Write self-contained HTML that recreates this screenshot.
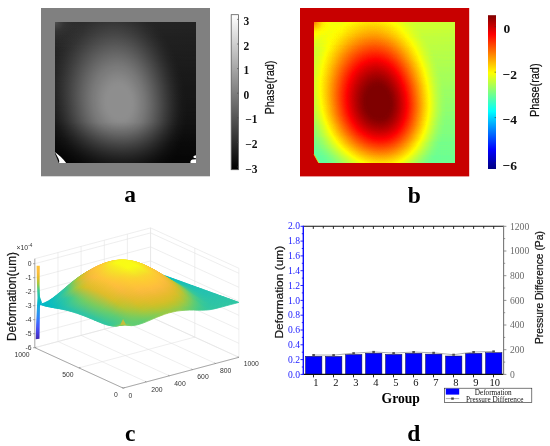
<!DOCTYPE html>
<html lang="en"><head><meta charset="utf-8"><title>Figure</title>
<style>
html,body{margin:0;padding:0;background:#fff}
svg{display:block}
text{font-family:"Liberation Sans",sans-serif}
.cbt{font-family:"Liberation Serif",serif;font-weight:bold;font-size:11.5px;fill:#111}
.cbl{font-size:12px;fill:#111;stroke:#111;stroke-width:.2px}
.rt{font-family:"Liberation Serif",serif;font-size:9.6px;fill:#6a6a6a}
.lt{font-family:"Liberation Serif",serif;font-size:9.6px;fill:#1a1aff}
.xt{font-family:"Liberation Serif",serif;font-size:10.5px;fill:#111}
.grp{font-family:"Liberation Serif",serif;font-weight:bold;font-size:15.4px;fill:#000}
.al{font-size:12px;fill:#111;stroke:#111;stroke-width:.2px}
.al2{font-size:10.3px;fill:#111;stroke:#111;stroke-width:.2px}
.lg{font-family:"Liberation Serif",serif;font-size:7.2px;fill:#111}
.t3{font-size:6.8px;fill:#333}
.pl{font-family:"Liberation Serif",serif;font-weight:bold;font-size:23.5px;fill:#000}
</style></head><body>
<svg width="550" height="446" viewBox="0 0 550 446">
<defs>
<linearGradient id="fbt" gradientUnits="userSpaceOnUse" x1="0" y1="0" x2="141" y2="0"><stop offset="0" stop-color="#989898"/><stop offset="1" stop-color="#939393"/></linearGradient>
<linearGradient id="fbb" gradientUnits="userSpaceOnUse" x1="0" y1="0" x2="141" y2="0"><stop offset="0" stop-color="#777777"/><stop offset="1" stop-color="#7a7a7a"/></linearGradient>
<linearGradient id="fbv" gradientUnits="userSpaceOnUse" x1="0" y1="0" x2="0" y2="141"><stop offset="0" stop-color="#fff" stop-opacity="0"/><stop offset="1" stop-color="#fff" stop-opacity="1"/></linearGradient>
<mask id="fbm" maskUnits="userSpaceOnUse" x="-1" y="-1" width="143" height="143" style="mask-type:alpha"><rect x="-1" y="-1" width="143" height="143" fill="url(#fbv)"/></mask>
<radialGradient id="fq0" gradientUnits="userSpaceOnUse" cx="0" cy="0" r="1" gradientTransform="scale(77.9 104.0)"><stop offset="0.0000" stop-color="#fff" stop-opacity="1.0000"/><stop offset="0.0312" stop-color="#fff" stop-opacity="1.0000"/><stop offset="0.0625" stop-color="#fff" stop-opacity="1.0000"/><stop offset="0.0938" stop-color="#fff" stop-opacity="1.0000"/><stop offset="0.1250" stop-color="#fff" stop-opacity="1.0000"/><stop offset="0.1562" stop-color="#fff" stop-opacity="1.0000"/><stop offset="0.1875" stop-color="#fff" stop-opacity="0.9903"/><stop offset="0.2188" stop-color="#fff" stop-opacity="0.9645"/><stop offset="0.2500" stop-color="#fff" stop-opacity="0.9350"/><stop offset="0.2812" stop-color="#fff" stop-opacity="0.9022"/><stop offset="0.3125" stop-color="#fff" stop-opacity="0.8662"/><stop offset="0.3438" stop-color="#fff" stop-opacity="0.8273"/><stop offset="0.3750" stop-color="#fff" stop-opacity="0.7857"/><stop offset="0.4062" stop-color="#fff" stop-opacity="0.7417"/><stop offset="0.4375" stop-color="#fff" stop-opacity="0.6956"/><stop offset="0.4688" stop-color="#fff" stop-opacity="0.6477"/><stop offset="0.5000" stop-color="#fff" stop-opacity="0.5984"/><stop offset="0.5312" stop-color="#fff" stop-opacity="0.5481"/><stop offset="0.5625" stop-color="#fff" stop-opacity="0.4971"/><stop offset="0.5938" stop-color="#fff" stop-opacity="0.4460"/><stop offset="0.6250" stop-color="#fff" stop-opacity="0.3950"/><stop offset="0.6562" stop-color="#fff" stop-opacity="0.3448"/><stop offset="0.6875" stop-color="#fff" stop-opacity="0.2958"/><stop offset="0.7188" stop-color="#fff" stop-opacity="0.2486"/><stop offset="0.7500" stop-color="#fff" stop-opacity="0.2036"/><stop offset="0.7812" stop-color="#fff" stop-opacity="0.1615"/><stop offset="0.8125" stop-color="#fff" stop-opacity="0.1229"/><stop offset="0.8438" stop-color="#fff" stop-opacity="0.0883"/><stop offset="0.8750" stop-color="#fff" stop-opacity="0.0584"/><stop offset="0.9062" stop-color="#fff" stop-opacity="0.0340"/><stop offset="0.9375" stop-color="#fff" stop-opacity="0.0156"/><stop offset="0.9688" stop-color="#fff" stop-opacity="0.0040"/><stop offset="1.0000" stop-color="#fff" stop-opacity="0.0000"/></radialGradient><radialGradient id="fq1" gradientUnits="userSpaceOnUse" cx="0" cy="0" r="1" gradientTransform="scale(67.8 104.0)"><stop offset="0.0000" stop-color="#fff" stop-opacity="1.0000"/><stop offset="0.0312" stop-color="#fff" stop-opacity="1.0000"/><stop offset="0.0625" stop-color="#fff" stop-opacity="1.0000"/><stop offset="0.0938" stop-color="#fff" stop-opacity="1.0000"/><stop offset="0.1250" stop-color="#fff" stop-opacity="1.0000"/><stop offset="0.1562" stop-color="#fff" stop-opacity="1.0000"/><stop offset="0.1875" stop-color="#fff" stop-opacity="0.9903"/><stop offset="0.2188" stop-color="#fff" stop-opacity="0.9645"/><stop offset="0.2500" stop-color="#fff" stop-opacity="0.9350"/><stop offset="0.2812" stop-color="#fff" stop-opacity="0.9022"/><stop offset="0.3125" stop-color="#fff" stop-opacity="0.8662"/><stop offset="0.3438" stop-color="#fff" stop-opacity="0.8273"/><stop offset="0.3750" stop-color="#fff" stop-opacity="0.7857"/><stop offset="0.4062" stop-color="#fff" stop-opacity="0.7417"/><stop offset="0.4375" stop-color="#fff" stop-opacity="0.6956"/><stop offset="0.4688" stop-color="#fff" stop-opacity="0.6477"/><stop offset="0.5000" stop-color="#fff" stop-opacity="0.5984"/><stop offset="0.5312" stop-color="#fff" stop-opacity="0.5481"/><stop offset="0.5625" stop-color="#fff" stop-opacity="0.4971"/><stop offset="0.5938" stop-color="#fff" stop-opacity="0.4460"/><stop offset="0.6250" stop-color="#fff" stop-opacity="0.3950"/><stop offset="0.6562" stop-color="#fff" stop-opacity="0.3448"/><stop offset="0.6875" stop-color="#fff" stop-opacity="0.2958"/><stop offset="0.7188" stop-color="#fff" stop-opacity="0.2486"/><stop offset="0.7500" stop-color="#fff" stop-opacity="0.2036"/><stop offset="0.7812" stop-color="#fff" stop-opacity="0.1615"/><stop offset="0.8125" stop-color="#fff" stop-opacity="0.1229"/><stop offset="0.8438" stop-color="#fff" stop-opacity="0.0883"/><stop offset="0.8750" stop-color="#fff" stop-opacity="0.0584"/><stop offset="0.9062" stop-color="#fff" stop-opacity="0.0340"/><stop offset="0.9375" stop-color="#fff" stop-opacity="0.0156"/><stop offset="0.9688" stop-color="#fff" stop-opacity="0.0040"/><stop offset="1.0000" stop-color="#fff" stop-opacity="0.0000"/></radialGradient><radialGradient id="fq2" gradientUnits="userSpaceOnUse" cx="0" cy="0" r="1" gradientTransform="scale(77.9 91.0)"><stop offset="0.0000" stop-color="#fff" stop-opacity="1.0000"/><stop offset="0.0312" stop-color="#fff" stop-opacity="1.0000"/><stop offset="0.0625" stop-color="#fff" stop-opacity="1.0000"/><stop offset="0.0938" stop-color="#fff" stop-opacity="1.0000"/><stop offset="0.1250" stop-color="#fff" stop-opacity="1.0000"/><stop offset="0.1562" stop-color="#fff" stop-opacity="1.0000"/><stop offset="0.1875" stop-color="#fff" stop-opacity="0.9903"/><stop offset="0.2188" stop-color="#fff" stop-opacity="0.9645"/><stop offset="0.2500" stop-color="#fff" stop-opacity="0.9350"/><stop offset="0.2812" stop-color="#fff" stop-opacity="0.9022"/><stop offset="0.3125" stop-color="#fff" stop-opacity="0.8662"/><stop offset="0.3438" stop-color="#fff" stop-opacity="0.8273"/><stop offset="0.3750" stop-color="#fff" stop-opacity="0.7857"/><stop offset="0.4062" stop-color="#fff" stop-opacity="0.7417"/><stop offset="0.4375" stop-color="#fff" stop-opacity="0.6956"/><stop offset="0.4688" stop-color="#fff" stop-opacity="0.6477"/><stop offset="0.5000" stop-color="#fff" stop-opacity="0.5984"/><stop offset="0.5312" stop-color="#fff" stop-opacity="0.5481"/><stop offset="0.5625" stop-color="#fff" stop-opacity="0.4971"/><stop offset="0.5938" stop-color="#fff" stop-opacity="0.4460"/><stop offset="0.6250" stop-color="#fff" stop-opacity="0.3950"/><stop offset="0.6562" stop-color="#fff" stop-opacity="0.3448"/><stop offset="0.6875" stop-color="#fff" stop-opacity="0.2958"/><stop offset="0.7188" stop-color="#fff" stop-opacity="0.2486"/><stop offset="0.7500" stop-color="#fff" stop-opacity="0.2036"/><stop offset="0.7812" stop-color="#fff" stop-opacity="0.1615"/><stop offset="0.8125" stop-color="#fff" stop-opacity="0.1229"/><stop offset="0.8438" stop-color="#fff" stop-opacity="0.0883"/><stop offset="0.8750" stop-color="#fff" stop-opacity="0.0584"/><stop offset="0.9062" stop-color="#fff" stop-opacity="0.0340"/><stop offset="0.9375" stop-color="#fff" stop-opacity="0.0156"/><stop offset="0.9688" stop-color="#fff" stop-opacity="0.0040"/><stop offset="1.0000" stop-color="#fff" stop-opacity="0.0000"/></radialGradient><radialGradient id="fq3" gradientUnits="userSpaceOnUse" cx="0" cy="0" r="1" gradientTransform="scale(67.8 91.0)"><stop offset="0.0000" stop-color="#fff" stop-opacity="1.0000"/><stop offset="0.0312" stop-color="#fff" stop-opacity="1.0000"/><stop offset="0.0625" stop-color="#fff" stop-opacity="1.0000"/><stop offset="0.0938" stop-color="#fff" stop-opacity="1.0000"/><stop offset="0.1250" stop-color="#fff" stop-opacity="1.0000"/><stop offset="0.1562" stop-color="#fff" stop-opacity="1.0000"/><stop offset="0.1875" stop-color="#fff" stop-opacity="0.9903"/><stop offset="0.2188" stop-color="#fff" stop-opacity="0.9645"/><stop offset="0.2500" stop-color="#fff" stop-opacity="0.9350"/><stop offset="0.2812" stop-color="#fff" stop-opacity="0.9022"/><stop offset="0.3125" stop-color="#fff" stop-opacity="0.8662"/><stop offset="0.3438" stop-color="#fff" stop-opacity="0.8273"/><stop offset="0.3750" stop-color="#fff" stop-opacity="0.7857"/><stop offset="0.4062" stop-color="#fff" stop-opacity="0.7417"/><stop offset="0.4375" stop-color="#fff" stop-opacity="0.6956"/><stop offset="0.4688" stop-color="#fff" stop-opacity="0.6477"/><stop offset="0.5000" stop-color="#fff" stop-opacity="0.5984"/><stop offset="0.5312" stop-color="#fff" stop-opacity="0.5481"/><stop offset="0.5625" stop-color="#fff" stop-opacity="0.4971"/><stop offset="0.5938" stop-color="#fff" stop-opacity="0.4460"/><stop offset="0.6250" stop-color="#fff" stop-opacity="0.3950"/><stop offset="0.6562" stop-color="#fff" stop-opacity="0.3448"/><stop offset="0.6875" stop-color="#fff" stop-opacity="0.2958"/><stop offset="0.7188" stop-color="#fff" stop-opacity="0.2486"/><stop offset="0.7500" stop-color="#fff" stop-opacity="0.2036"/><stop offset="0.7812" stop-color="#fff" stop-opacity="0.1615"/><stop offset="0.8125" stop-color="#fff" stop-opacity="0.1229"/><stop offset="0.8438" stop-color="#fff" stop-opacity="0.0883"/><stop offset="0.8750" stop-color="#fff" stop-opacity="0.0584"/><stop offset="0.9062" stop-color="#fff" stop-opacity="0.0340"/><stop offset="0.9375" stop-color="#fff" stop-opacity="0.0156"/><stop offset="0.9688" stop-color="#fff" stop-opacity="0.0040"/><stop offset="1.0000" stop-color="#fff" stop-opacity="0.0000"/></radialGradient>
<radialGradient id="fh" gradientUnits="userSpaceOnUse" cx="0" cy="0" r="30"><stop offset="0" stop-color="#fff" stop-opacity=".4"/><stop offset=".12" stop-color="#fff" stop-opacity=".27"/><stop offset=".3" stop-color="#fff" stop-opacity=".13"/><stop offset=".6" stop-color="#fff" stop-opacity=".05"/><stop offset="1" stop-color="#fff" stop-opacity="0"/></radialGradient>
<g id="fld"><rect x="-1" y="-1" width="143" height="143" fill="url(#fbt)"/><rect x="-1" y="-1" width="143" height="143" fill="url(#fbb)" mask="url(#fbm)"/><g transform="translate(65.0 81.0) rotate(-7.7)" shape-rendering="crispEdges"><rect x="-78.9" y="-105.0" width="78.9" height="105.0" fill="url(#fq0)"/><rect x="0" y="-105.0" width="68.8" height="105.0" fill="url(#fq1)"/><rect x="-78.9" y="0" width="78.9" height="92.0" fill="url(#fq2)"/><rect x="0" y="0" width="68.8" height="92.0" fill="url(#fq3)"/></g><rect x="0" y="0" width="32" height="32" fill="url(#fh)"/></g>
<clipPath id="sq"><rect x="0" y="0" width="141" height="141"/></clipPath>
<filter id="jet" x="0" y="0" width="1" height="1" color-interpolation-filters="sRGB" filterUnits="objectBoundingBox">
<feComponentTransfer>
<feFuncR type="table" tableValues="0 0 0 0 .5 1 1 1 .5"/>
<feFuncG type="table" tableValues="0 0 .5 1 1 1 .5 0 0"/>
<feFuncB type="table" tableValues=".5 1 1 1 .5 0 0 0 0"/>
</feComponentTransfer></filter>
<filter id="gry" x="0" y="0" width="1" height="1" color-interpolation-filters="sRGB">
<feComponentTransfer>
<feFuncR type="linear" slope=".99" intercept="-.43"/>
<feFuncG type="linear" slope=".99" intercept="-.43"/>
<feFuncB type="linear" slope=".99" intercept="-.43"/>
</feComponentTransfer></filter>
<linearGradient id="avg" x1="0" y1="0" x2="0" y2="1"><stop offset="0" stop-color="#000" stop-opacity="0"/><stop offset="1" stop-color="#000" stop-opacity=".55"/></linearGradient>
<linearGradient id="cba" x1="0" y1="0" x2="0" y2="1"><stop offset="0" stop-color="#fff"/><stop offset="1" stop-color="#000"/></linearGradient>
<linearGradient id="cbb" x1="0" y1="1" x2="0" y2="0">
<stop offset="0" stop-color="#000080"/><stop offset=".125" stop-color="#00f"/><stop offset=".375" stop-color="#0ff"/><stop offset=".625" stop-color="#ff0"/><stop offset=".875" stop-color="#f00"/><stop offset="1" stop-color="#800000"/></linearGradient>
</defs>
<rect width="550" height="446" fill="#fff"/>
<rect x="41" y="8" width="169" height="168.3" fill="#808080"/>
<g transform="translate(55 22)" clip-path="url(#sq)"><g filter="url(#gry)"><use href="#fld"/></g></g>
<rect x="55" y="122" width="141" height="41" fill="url(#avg)"/>
<path d="M54.5 152.3L54.5 163.5L59 163.5Z" fill="#808080"/>
<path d="M54.8 152C58.5 154.5 63 158.5 66.2 163L58.9 163C60 161.5 58.6 158.5 57.2 156.2C56.4 154.8 55.6 153.4 54.8 152Z" fill="#fff"/>
<path d="M196 155.2L194.3 155.8C193 156.3 193 157.6 194.3 158L196 158.2ZM196 159.2L192.5 159.4C190.6 160 190 161.5 190.6 163L196 163Z" fill="#fff"/>
<rect x="231.2" y="14.7" width="7.2" height="155" fill="url(#cba)" stroke="#5a5a5a" stroke-width=".8"/>
<path d="M237 19.4h1.4" stroke="#444" stroke-width=".6"/>
<text x="243.6" y="24.9" class="cbt">3</text>
<path d="M237 44.0h1.4" stroke="#444" stroke-width=".6"/>
<text x="243.6" y="49.5" class="cbt">2</text>
<path d="M237 68.6h1.4" stroke="#444" stroke-width=".6"/>
<text x="243.6" y="74.1" class="cbt">1</text>
<path d="M237 93.2h1.4" stroke="#444" stroke-width=".6"/>
<text x="243.6" y="98.7" class="cbt">0</text>
<path d="M237 117.8h1.4" stroke="#444" stroke-width=".6"/>
<text x="245.2" y="123.3" class="cbt">−1</text>
<path d="M237 142.4h1.4" stroke="#444" stroke-width=".6"/>
<text x="245.2" y="147.9" class="cbt">−2</text>
<path d="M237 167.0h1.4" stroke="#444" stroke-width=".6"/>
<text x="245.2" y="172.5" class="cbt">−3</text>
<text transform="translate(273.5 87.5) rotate(-90)" text-anchor="middle" class="cbl" textLength="54" lengthAdjust="spacingAndGlyphs">Phase(rad)</text>
<text x="130" y="202.3" text-anchor="middle" class="pl">a</text>
<rect x="300" y="8" width="169.2" height="168.4" fill="#c80000"/>
<g transform="translate(314 22)" clip-path="url(#sq)"><g filter="url(#jet)"><use href="#fld"/></g></g>
<path d="M314 154.5L314 163.5L318.8 163.5Z" fill="#c80000"/>
<path d="M314 154.5L318.8 163" stroke="#fc0" stroke-width=".8" fill="none"/>
<rect x="488" y="15.2" width="8" height="153.8" fill="url(#cbb)"/>
<path d="M494.6 26.7h1.4" stroke="#333" stroke-width=".6"/>
<text x="503.6" y="33.3" class="cbt" style="font-size:13.5px">0</text>
<path d="M494.6 72.2h1.4" stroke="#333" stroke-width=".6"/>
<text x="502.6" y="78.8" class="cbt" style="font-size:13.5px">−2</text>
<path d="M494.6 117.6h1.4" stroke="#333" stroke-width=".6"/>
<text x="502.6" y="124.2" class="cbt" style="font-size:13.5px">−4</text>
<path d="M494.6 163.1h1.4" stroke="#333" stroke-width=".6"/>
<text x="502.6" y="169.7" class="cbt" style="font-size:13.5px">−6</text>
<text transform="translate(538.8 90.3) rotate(-90)" text-anchor="middle" class="cbl" textLength="53.6" lengthAdjust="spacingAndGlyphs">Phase(rad)</text>
<text x="414.3" y="202.5" text-anchor="middle" class="pl">b</text>
<defs><linearGradient id="s55" gradientUnits="userSpaceOnUse" x1="40.8" y1="0" x2="156.6" y2="0"><stop offset="0.000" stop-color="#01b9c7"/><stop offset="0.083" stop-color="#07bcc0"/><stop offset="0.167" stop-color="#27c2ac"/><stop offset="0.250" stop-color="#4dcc82"/><stop offset="0.333" stop-color="#a0c841"/><stop offset="0.417" stop-color="#cac129"/><stop offset="0.500" stop-color="#d1bf27"/><stop offset="0.583" stop-color="#b9c430"/><stop offset="0.667" stop-color="#71cd64"/><stop offset="0.750" stop-color="#30c5a1"/><stop offset="0.833" stop-color="#14beb8"/><stop offset="0.917" stop-color="#02bac4"/><stop offset="1.000" stop-color="#02bac4"/></linearGradient><linearGradient id="s54" gradientUnits="userSpaceOnUse" x1="42.3" y1="0" x2="158.1" y2="0"><stop offset="0.000" stop-color="#01b9c7"/><stop offset="0.083" stop-color="#0abdbd"/><stop offset="0.167" stop-color="#2cc4a7"/><stop offset="0.250" stop-color="#62cd71"/><stop offset="0.333" stop-color="#b7c531"/><stop offset="0.417" stop-color="#d9bd28"/><stop offset="0.500" stop-color="#ddbd29"/><stop offset="0.583" stop-color="#cbc129"/><stop offset="0.667" stop-color="#89cb53"/><stop offset="0.750" stop-color="#34c79b"/><stop offset="0.833" stop-color="#19bfb5"/><stop offset="0.917" stop-color="#02bbc3"/><stop offset="1.000" stop-color="#02bac3"/></linearGradient><linearGradient id="s53" gradientUnits="userSpaceOnUse" x1="43.8" y1="0" x2="159.6" y2="0"><stop offset="0.000" stop-color="#01b9c6"/><stop offset="0.083" stop-color="#10beba"/><stop offset="0.167" stop-color="#30c5a2"/><stop offset="0.250" stop-color="#79cc5f"/><stop offset="0.333" stop-color="#c9c129"/><stop offset="0.417" stop-color="#e2bc2b"/><stop offset="0.500" stop-color="#e5bb2d"/><stop offset="0.583" stop-color="#d9be28"/><stop offset="0.667" stop-color="#9fc942"/><stop offset="0.750" stop-color="#3dc990"/><stop offset="0.833" stop-color="#1ec0b2"/><stop offset="0.917" stop-color="#04bbc2"/><stop offset="1.000" stop-color="#03bbc3"/></linearGradient><linearGradient id="s52" gradientUnits="userSpaceOnUse" x1="45.3" y1="0" x2="161.1" y2="0"><stop offset="0.000" stop-color="#02bac5"/><stop offset="0.083" stop-color="#15bfb7"/><stop offset="0.167" stop-color="#33c69d"/><stop offset="0.250" stop-color="#90ca4d"/><stop offset="0.333" stop-color="#d8be28"/><stop offset="0.417" stop-color="#eaba31"/><stop offset="0.500" stop-color="#edba33"/><stop offset="0.583" stop-color="#e1bc2b"/><stop offset="0.667" stop-color="#b3c534"/><stop offset="0.750" stop-color="#49cb85"/><stop offset="0.833" stop-color="#22c1af"/><stop offset="0.917" stop-color="#06bcc0"/><stop offset="1.000" stop-color="#03bbc2"/></linearGradient><linearGradient id="s51" gradientUnits="userSpaceOnUse" x1="46.8" y1="0" x2="162.6" y2="0"><stop offset="0.000" stop-color="#02bac4"/><stop offset="0.083" stop-color="#1bc0b4"/><stop offset="0.167" stop-color="#3cc992"/><stop offset="0.250" stop-color="#a6c83d"/><stop offset="0.333" stop-color="#e0bc2b"/><stop offset="0.417" stop-color="#f1ba37"/><stop offset="0.500" stop-color="#f4ba39"/><stop offset="0.583" stop-color="#e8bb2f"/><stop offset="0.667" stop-color="#c2c22c"/><stop offset="0.750" stop-color="#58cc79"/><stop offset="0.833" stop-color="#26c2ac"/><stop offset="0.917" stop-color="#08bcbf"/><stop offset="1.000" stop-color="#04bbc2"/></linearGradient><linearGradient id="s50" gradientUnits="userSpaceOnUse" x1="48.2" y1="0" x2="164.0" y2="0"><stop offset="0.000" stop-color="#03bbc2"/><stop offset="0.083" stop-color="#20c1b1"/><stop offset="0.167" stop-color="#48cb86"/><stop offset="0.250" stop-color="#b8c431"/><stop offset="0.333" stop-color="#e8bb2e"/><stop offset="0.417" stop-color="#f8ba3d"/><stop offset="0.500" stop-color="#fabb3d"/><stop offset="0.583" stop-color="#efba35"/><stop offset="0.667" stop-color="#d0c028"/><stop offset="0.750" stop-color="#67cd6c"/><stop offset="0.833" stop-color="#29c3aa"/><stop offset="0.917" stop-color="#09bdbe"/><stop offset="1.000" stop-color="#05bbc1"/></linearGradient><linearGradient id="s49" gradientUnits="userSpaceOnUse" x1="49.7" y1="0" x2="165.5" y2="0"><stop offset="0.000" stop-color="#05bbc1"/><stop offset="0.083" stop-color="#25c2ae"/><stop offset="0.167" stop-color="#57cc7a"/><stop offset="0.250" stop-color="#c7c12a"/><stop offset="0.333" stop-color="#eeba34"/><stop offset="0.417" stop-color="#fdbd3d"/><stop offset="0.500" stop-color="#febe3c"/><stop offset="0.583" stop-color="#f4ba3a"/><stop offset="0.667" stop-color="#d9bd28"/><stop offset="0.750" stop-color="#77cc60"/><stop offset="0.833" stop-color="#2cc4a7"/><stop offset="0.917" stop-color="#0bbdbc"/><stop offset="1.000" stop-color="#06bcc0"/></linearGradient><linearGradient id="s48" gradientUnits="userSpaceOnUse" x1="51.2" y1="0" x2="167.0" y2="0"><stop offset="0.000" stop-color="#07bcbf"/><stop offset="0.083" stop-color="#28c3ab"/><stop offset="0.167" stop-color="#66cd6d"/><stop offset="0.250" stop-color="#d4bf28"/><stop offset="0.333" stop-color="#f4ba39"/><stop offset="0.417" stop-color="#fec13a"/><stop offset="0.500" stop-color="#fec338"/><stop offset="0.583" stop-color="#fabb3d"/><stop offset="0.667" stop-color="#dfbc2a"/><stop offset="0.750" stop-color="#87cb54"/><stop offset="0.833" stop-color="#2ec5a4"/><stop offset="0.917" stop-color="#0ebebb"/><stop offset="1.000" stop-color="#07bcc0"/></linearGradient><linearGradient id="s47" gradientUnits="userSpaceOnUse" x1="52.7" y1="0" x2="168.5" y2="0"><stop offset="0.000" stop-color="#09bdbe"/><stop offset="0.083" stop-color="#2bc3a7"/><stop offset="0.167" stop-color="#77cc60"/><stop offset="0.250" stop-color="#dcbd29"/><stop offset="0.333" stop-color="#f9bb3d"/><stop offset="0.417" stop-color="#fec636"/><stop offset="0.500" stop-color="#fec735"/><stop offset="0.583" stop-color="#febe3c"/><stop offset="0.667" stop-color="#e5bb2d"/><stop offset="0.750" stop-color="#95ca49"/><stop offset="0.833" stop-color="#30c5a1"/><stop offset="0.917" stop-color="#11beb9"/><stop offset="1.000" stop-color="#07bcbf"/></linearGradient><linearGradient id="s46" gradientUnits="userSpaceOnUse" x1="54.2" y1="0" x2="170.0" y2="0"><stop offset="0.000" stop-color="#0cbdbc"/><stop offset="0.083" stop-color="#2ec4a4"/><stop offset="0.167" stop-color="#88cb53"/><stop offset="0.250" stop-color="#e2bc2b"/><stop offset="0.333" stop-color="#fdbd3d"/><stop offset="0.417" stop-color="#feca33"/><stop offset="0.500" stop-color="#fdcc32"/><stop offset="0.583" stop-color="#fec13a"/><stop offset="0.667" stop-color="#eabb30"/><stop offset="0.750" stop-color="#a3c83f"/><stop offset="0.833" stop-color="#32c69e"/><stop offset="0.917" stop-color="#14beb8"/><stop offset="1.000" stop-color="#08bcbf"/></linearGradient><linearGradient id="s45" gradientUnits="userSpaceOnUse" x1="55.7" y1="0" x2="171.5" y2="0"><stop offset="0.000" stop-color="#0fbeba"/><stop offset="0.083" stop-color="#30c5a1"/><stop offset="0.167" stop-color="#97ca48"/><stop offset="0.250" stop-color="#e7bb2e"/><stop offset="0.333" stop-color="#fec13a"/><stop offset="0.417" stop-color="#fdce31"/><stop offset="0.500" stop-color="#fcd030"/><stop offset="0.583" stop-color="#fec537"/><stop offset="0.667" stop-color="#eeba34"/><stop offset="0.750" stop-color="#afc637"/><stop offset="0.833" stop-color="#35c79a"/><stop offset="0.917" stop-color="#17bfb7"/><stop offset="1.000" stop-color="#09bcbe"/></linearGradient><linearGradient id="s44" gradientUnits="userSpaceOnUse" x1="57.1" y1="0" x2="172.9" y2="0"><stop offset="0.000" stop-color="#13beb9"/><stop offset="0.083" stop-color="#32c69e"/><stop offset="0.167" stop-color="#a5c83d"/><stop offset="0.250" stop-color="#ecba32"/><stop offset="0.333" stop-color="#fec437"/><stop offset="0.417" stop-color="#fbd22f"/><stop offset="0.500" stop-color="#fbd32e"/><stop offset="0.583" stop-color="#fec835"/><stop offset="0.667" stop-color="#f2ba37"/><stop offset="0.750" stop-color="#b8c431"/><stop offset="0.833" stop-color="#3ac994"/><stop offset="0.917" stop-color="#19bfb5"/><stop offset="1.000" stop-color="#0abdbe"/></linearGradient><linearGradient id="s43" gradientUnits="userSpaceOnUse" x1="58.6" y1="0" x2="174.4" y2="0"><stop offset="0.000" stop-color="#16bfb7"/><stop offset="0.083" stop-color="#36c899"/><stop offset="0.167" stop-color="#b2c635"/><stop offset="0.250" stop-color="#f0ba36"/><stop offset="0.333" stop-color="#fec835"/><stop offset="0.417" stop-color="#f9d82c"/><stop offset="0.500" stop-color="#f7dc2a"/><stop offset="0.583" stop-color="#fdcb33"/><stop offset="0.667" stop-color="#f5ba3a"/><stop offset="0.750" stop-color="#c0c32d"/><stop offset="0.833" stop-color="#3eca8f"/><stop offset="0.917" stop-color="#1bc0b4"/><stop offset="1.000" stop-color="#0bbdbd"/></linearGradient><linearGradient id="s42" gradientUnits="userSpaceOnUse" x1="60.1" y1="0" x2="175.9" y2="0"><stop offset="0.000" stop-color="#19bfb5"/><stop offset="0.083" stop-color="#3bc992"/><stop offset="0.167" stop-color="#bbc430"/><stop offset="0.250" stop-color="#f3ba39"/><stop offset="0.333" stop-color="#fdcb33"/><stop offset="0.417" stop-color="#f6e028"/><stop offset="0.500" stop-color="#f5e427"/><stop offset="0.583" stop-color="#fdce31"/><stop offset="0.667" stop-color="#f8ba3d"/><stop offset="0.750" stop-color="#c6c22a"/><stop offset="0.833" stop-color="#44ca8a"/><stop offset="0.917" stop-color="#1dc0b3"/><stop offset="1.000" stop-color="#0bbdbc"/></linearGradient><linearGradient id="s41" gradientUnits="userSpaceOnUse" x1="61.6" y1="0" x2="177.4" y2="0"><stop offset="0.000" stop-color="#1cc0b4"/><stop offset="0.083" stop-color="#41ca8c"/><stop offset="0.167" stop-color="#c3c22b"/><stop offset="0.250" stop-color="#f7ba3c"/><stop offset="0.333" stop-color="#fdce31"/><stop offset="0.417" stop-color="#f5e825"/><stop offset="0.500" stop-color="#f5eb23"/><stop offset="0.583" stop-color="#fcd130"/><stop offset="0.667" stop-color="#fabb3d"/><stop offset="0.750" stop-color="#ccc028"/><stop offset="0.833" stop-color="#49cb86"/><stop offset="0.917" stop-color="#1fc0b2"/><stop offset="1.000" stop-color="#0dbdbc"/></linearGradient><linearGradient id="s40" gradientUnits="userSpaceOnUse" x1="63.1" y1="0" x2="178.9" y2="0"><stop offset="0.000" stop-color="#1ec0b2"/><stop offset="0.083" stop-color="#48cb86"/><stop offset="0.167" stop-color="#cac129"/><stop offset="0.250" stop-color="#fabb3d"/><stop offset="0.333" stop-color="#fcd030"/><stop offset="0.417" stop-color="#f5ee21"/><stop offset="0.500" stop-color="#f6f11f"/><stop offset="0.583" stop-color="#fbd32f"/><stop offset="0.667" stop-color="#fcbd3d"/><stop offset="0.750" stop-color="#d1bf27"/><stop offset="0.833" stop-color="#4ecc81"/><stop offset="0.917" stop-color="#21c1b0"/><stop offset="1.000" stop-color="#0ebdbb"/></linearGradient><linearGradient id="s39" gradientUnits="userSpaceOnUse" x1="64.6" y1="0" x2="180.4" y2="0"><stop offset="0.000" stop-color="#21c1b0"/><stop offset="0.083" stop-color="#4fcc81"/><stop offset="0.167" stop-color="#d0bf27"/><stop offset="0.250" stop-color="#fcbc3d"/><stop offset="0.333" stop-color="#fbd32f"/><stop offset="0.417" stop-color="#f7f31c"/><stop offset="0.500" stop-color="#f7f61a"/><stop offset="0.583" stop-color="#fad62d"/><stop offset="0.667" stop-color="#febd3c"/><stop offset="0.750" stop-color="#d5be28"/><stop offset="0.833" stop-color="#52cc7e"/><stop offset="0.917" stop-color="#22c1b0"/><stop offset="1.000" stop-color="#0fbebb"/></linearGradient><linearGradient id="s38" gradientUnits="userSpaceOnUse" x1="66.0" y1="0" x2="181.8" y2="0"><stop offset="0.000" stop-color="#23c1af"/><stop offset="0.083" stop-color="#55cc7c"/><stop offset="0.167" stop-color="#d5be28"/><stop offset="0.250" stop-color="#fdbd3d"/><stop offset="0.333" stop-color="#fad52d"/><stop offset="0.417" stop-color="#f8f818"/><stop offset="0.500" stop-color="#f9fa16"/><stop offset="0.583" stop-color="#f8da2b"/><stop offset="0.667" stop-color="#febf3c"/><stop offset="0.750" stop-color="#d8be28"/><stop offset="0.833" stop-color="#56cc7b"/><stop offset="0.917" stop-color="#24c1af"/><stop offset="1.000" stop-color="#10beba"/></linearGradient><linearGradient id="s37" gradientUnits="userSpaceOnUse" x1="67.5" y1="0" x2="183.3" y2="0"><stop offset="0.000" stop-color="#25c2ae"/><stop offset="0.083" stop-color="#5bcc77"/><stop offset="0.167" stop-color="#d8be28"/><stop offset="0.250" stop-color="#febf3c"/><stop offset="0.333" stop-color="#f8d92b"/><stop offset="0.417" stop-color="#f9fb15"/><stop offset="0.500" stop-color="#f9fb15"/><stop offset="0.583" stop-color="#f7dd2a"/><stop offset="0.667" stop-color="#fec03b"/><stop offset="0.750" stop-color="#d9be28"/><stop offset="0.833" stop-color="#59cc78"/><stop offset="0.917" stop-color="#24c2ae"/><stop offset="1.000" stop-color="#11beb9"/></linearGradient><linearGradient id="s36" gradientUnits="userSpaceOnUse" x1="69.0" y1="0" x2="184.8" y2="0"><stop offset="0.000" stop-color="#26c2ad"/><stop offset="0.083" stop-color="#60cd72"/><stop offset="0.167" stop-color="#dabd28"/><stop offset="0.250" stop-color="#fec03b"/><stop offset="0.333" stop-color="#f7dc2a"/><stop offset="0.417" stop-color="#f9fb15"/><stop offset="0.500" stop-color="#f9fb15"/><stop offset="0.583" stop-color="#f6df29"/><stop offset="0.667" stop-color="#fec03a"/><stop offset="0.750" stop-color="#dabd28"/><stop offset="0.833" stop-color="#5ccc76"/><stop offset="0.917" stop-color="#25c2ad"/><stop offset="1.000" stop-color="#12beb9"/></linearGradient><linearGradient id="s35" gradientUnits="userSpaceOnUse" x1="70.5" y1="0" x2="186.3" y2="0"><stop offset="0.000" stop-color="#27c2ab"/><stop offset="0.083" stop-color="#65cd6e"/><stop offset="0.167" stop-color="#dcbd29"/><stop offset="0.250" stop-color="#fec13a"/><stop offset="0.333" stop-color="#f6df29"/><stop offset="0.417" stop-color="#f9fb15"/><stop offset="0.500" stop-color="#f9fb15"/><stop offset="0.583" stop-color="#f6e028"/><stop offset="0.667" stop-color="#fec13a"/><stop offset="0.750" stop-color="#dabd28"/><stop offset="0.833" stop-color="#5dcc75"/><stop offset="0.917" stop-color="#26c2ad"/><stop offset="1.000" stop-color="#13beb8"/></linearGradient><linearGradient id="s34" gradientUnits="userSpaceOnUse" x1="72.0" y1="0" x2="187.8" y2="0"><stop offset="0.000" stop-color="#28c3aa"/><stop offset="0.083" stop-color="#69cd6b"/><stop offset="0.167" stop-color="#ddbd29"/><stop offset="0.250" stop-color="#fec13a"/><stop offset="0.333" stop-color="#f6e028"/><stop offset="0.417" stop-color="#f9fb15"/><stop offset="0.500" stop-color="#f9fb15"/><stop offset="0.583" stop-color="#f6e128"/><stop offset="0.667" stop-color="#fec13a"/><stop offset="0.750" stop-color="#dbbd28"/><stop offset="0.833" stop-color="#5ecd74"/><stop offset="0.917" stop-color="#26c2ac"/><stop offset="1.000" stop-color="#15bfb8"/></linearGradient><linearGradient id="s33" gradientUnits="userSpaceOnUse" x1="73.4" y1="0" x2="189.2" y2="0"><stop offset="0.000" stop-color="#2ac3a9"/><stop offset="0.083" stop-color="#6dcd67"/><stop offset="0.167" stop-color="#dfbc2a"/><stop offset="0.250" stop-color="#fec239"/><stop offset="0.333" stop-color="#f6e128"/><stop offset="0.417" stop-color="#f9fb15"/><stop offset="0.500" stop-color="#f9fb15"/><stop offset="0.583" stop-color="#f6e028"/><stop offset="0.667" stop-color="#fec03a"/><stop offset="0.750" stop-color="#dbbd28"/><stop offset="0.833" stop-color="#5ecd74"/><stop offset="0.917" stop-color="#27c2ac"/><stop offset="1.000" stop-color="#16bfb7"/></linearGradient><linearGradient id="s32" gradientUnits="userSpaceOnUse" x1="74.9" y1="0" x2="190.7" y2="0"><stop offset="0.000" stop-color="#2bc3a8"/><stop offset="0.083" stop-color="#70cd65"/><stop offset="0.167" stop-color="#dfbc2a"/><stop offset="0.250" stop-color="#fec239"/><stop offset="0.333" stop-color="#f5e128"/><stop offset="0.417" stop-color="#f9fb15"/><stop offset="0.500" stop-color="#f9fb15"/><stop offset="0.583" stop-color="#f6df29"/><stop offset="0.667" stop-color="#fec03b"/><stop offset="0.750" stop-color="#dabd28"/><stop offset="0.833" stop-color="#5ecd74"/><stop offset="0.917" stop-color="#27c2ac"/><stop offset="1.000" stop-color="#17bfb6"/></linearGradient><linearGradient id="s31" gradientUnits="userSpaceOnUse" x1="76.4" y1="0" x2="192.2" y2="0"><stop offset="0.000" stop-color="#2bc4a7"/><stop offset="0.083" stop-color="#73cd62"/><stop offset="0.167" stop-color="#e0bc2a"/><stop offset="0.250" stop-color="#fec239"/><stop offset="0.333" stop-color="#f6e128"/><stop offset="0.417" stop-color="#f9fb15"/><stop offset="0.500" stop-color="#f9fb15"/><stop offset="0.583" stop-color="#f7dd2a"/><stop offset="0.667" stop-color="#febf3b"/><stop offset="0.750" stop-color="#d9be28"/><stop offset="0.833" stop-color="#5dcc75"/><stop offset="0.917" stop-color="#27c2ac"/><stop offset="1.000" stop-color="#18bfb6"/></linearGradient><linearGradient id="s30" gradientUnits="userSpaceOnUse" x1="77.9" y1="0" x2="193.7" y2="0"><stop offset="0.000" stop-color="#2cc4a7"/><stop offset="0.083" stop-color="#76cc61"/><stop offset="0.167" stop-color="#e0bc2a"/><stop offset="0.250" stop-color="#fec239"/><stop offset="0.333" stop-color="#f6df29"/><stop offset="0.417" stop-color="#f9fb15"/><stop offset="0.500" stop-color="#f9fb15"/><stop offset="0.583" stop-color="#f8da2b"/><stop offset="0.667" stop-color="#febf3c"/><stop offset="0.750" stop-color="#d8be28"/><stop offset="0.833" stop-color="#5bcc76"/><stop offset="0.917" stop-color="#27c2ac"/><stop offset="1.000" stop-color="#19bfb5"/></linearGradient><linearGradient id="s29" gradientUnits="userSpaceOnUse" x1="79.4" y1="0" x2="195.2" y2="0"><stop offset="0.000" stop-color="#2dc4a6"/><stop offset="0.083" stop-color="#77cc5f"/><stop offset="0.167" stop-color="#e0bc2b"/><stop offset="0.250" stop-color="#fec239"/><stop offset="0.333" stop-color="#f6de29"/><stop offset="0.417" stop-color="#f9fb15"/><stop offset="0.500" stop-color="#f9fa16"/><stop offset="0.583" stop-color="#f9d72c"/><stop offset="0.667" stop-color="#febe3c"/><stop offset="0.750" stop-color="#d6be28"/><stop offset="0.833" stop-color="#59cc78"/><stop offset="0.917" stop-color="#27c2ac"/><stop offset="1.000" stop-color="#1ac0b5"/></linearGradient><linearGradient id="s28" gradientUnits="userSpaceOnUse" x1="80.9" y1="0" x2="196.7" y2="0"><stop offset="0.000" stop-color="#2dc4a5"/><stop offset="0.083" stop-color="#79cc5f"/><stop offset="0.167" stop-color="#e0bc2a"/><stop offset="0.250" stop-color="#fec13a"/><stop offset="0.333" stop-color="#f7dc2a"/><stop offset="0.417" stop-color="#f8f817"/><stop offset="0.500" stop-color="#f8f61a"/><stop offset="0.583" stop-color="#fad42e"/><stop offset="0.667" stop-color="#fdbd3d"/><stop offset="0.750" stop-color="#d3bf27"/><stop offset="0.833" stop-color="#56cc7a"/><stop offset="0.917" stop-color="#27c2ac"/><stop offset="1.000" stop-color="#1bc0b4"/></linearGradient><linearGradient id="s27" gradientUnits="userSpaceOnUse" x1="82.3" y1="0" x2="198.1" y2="0"><stop offset="0.000" stop-color="#2ec4a5"/><stop offset="0.083" stop-color="#79cc5e"/><stop offset="0.167" stop-color="#e0bc2a"/><stop offset="0.250" stop-color="#fec13a"/><stop offset="0.333" stop-color="#f8d92c"/><stop offset="0.417" stop-color="#f7f51b"/><stop offset="0.500" stop-color="#f6f31d"/><stop offset="0.583" stop-color="#fbd22f"/><stop offset="0.667" stop-color="#fbbc3d"/><stop offset="0.750" stop-color="#d0bf27"/><stop offset="0.833" stop-color="#54cc7d"/><stop offset="0.917" stop-color="#27c2ac"/><stop offset="1.000" stop-color="#1cc0b3"/></linearGradient><linearGradient id="s26" gradientUnits="userSpaceOnUse" x1="83.8" y1="0" x2="199.6" y2="0"><stop offset="0.000" stop-color="#2ec4a4"/><stop offset="0.083" stop-color="#79cc5e"/><stop offset="0.167" stop-color="#dfbc2a"/><stop offset="0.250" stop-color="#fec03b"/><stop offset="0.333" stop-color="#fad52d"/><stop offset="0.417" stop-color="#f6f11e"/><stop offset="0.500" stop-color="#f5ee21"/><stop offset="0.583" stop-color="#fcd030"/><stop offset="0.667" stop-color="#fabb3d"/><stop offset="0.750" stop-color="#ccc028"/><stop offset="0.833" stop-color="#50cc7f"/><stop offset="0.917" stop-color="#27c2ac"/><stop offset="1.000" stop-color="#1dc0b3"/></linearGradient><linearGradient id="s25" gradientUnits="userSpaceOnUse" x1="85.3" y1="0" x2="201.1" y2="0"><stop offset="0.000" stop-color="#2ec5a4"/><stop offset="0.083" stop-color="#79cc5e"/><stop offset="0.167" stop-color="#debc2a"/><stop offset="0.250" stop-color="#febf3b"/><stop offset="0.333" stop-color="#fbd32e"/><stop offset="0.417" stop-color="#f5ed22"/><stop offset="0.500" stop-color="#f5e924"/><stop offset="0.583" stop-color="#fdce31"/><stop offset="0.667" stop-color="#f8ba3d"/><stop offset="0.750" stop-color="#c8c129"/><stop offset="0.833" stop-color="#4dcc82"/><stop offset="0.917" stop-color="#27c2ac"/><stop offset="1.000" stop-color="#1ec0b2"/></linearGradient><linearGradient id="s24" gradientUnits="userSpaceOnUse" x1="86.8" y1="0" x2="202.6" y2="0"><stop offset="0.000" stop-color="#2fc5a3"/><stop offset="0.083" stop-color="#78cc5f"/><stop offset="0.167" stop-color="#ddbd29"/><stop offset="0.250" stop-color="#febe3c"/><stop offset="0.333" stop-color="#fbd12f"/><stop offset="0.417" stop-color="#f5e825"/><stop offset="0.500" stop-color="#f5e427"/><stop offset="0.583" stop-color="#fdcc32"/><stop offset="0.667" stop-color="#f5ba3b"/><stop offset="0.750" stop-color="#c3c22b"/><stop offset="0.833" stop-color="#49cb85"/><stop offset="0.917" stop-color="#26c2ac"/><stop offset="1.000" stop-color="#1fc0b2"/></linearGradient><linearGradient id="s23" gradientUnits="userSpaceOnUse" x1="88.3" y1="0" x2="204.1" y2="0"><stop offset="0.000" stop-color="#2fc5a3"/><stop offset="0.083" stop-color="#77cc60"/><stop offset="0.167" stop-color="#dcbd29"/><stop offset="0.250" stop-color="#fdbd3d"/><stop offset="0.333" stop-color="#fccf30"/><stop offset="0.417" stop-color="#f5e227"/><stop offset="0.500" stop-color="#f6de29"/><stop offset="0.583" stop-color="#feca33"/><stop offset="0.667" stop-color="#f3ba38"/><stop offset="0.750" stop-color="#bec32e"/><stop offset="0.833" stop-color="#46cb88"/><stop offset="0.917" stop-color="#26c2ac"/><stop offset="1.000" stop-color="#20c1b1"/></linearGradient><linearGradient id="s22" gradientUnits="userSpaceOnUse" x1="89.8" y1="0" x2="205.6" y2="0"><stop offset="0.000" stop-color="#2fc5a3"/><stop offset="0.083" stop-color="#75cc61"/><stop offset="0.167" stop-color="#dbbd28"/><stop offset="0.250" stop-color="#fbbc3d"/><stop offset="0.333" stop-color="#fdcd31"/><stop offset="0.417" stop-color="#f7dc2a"/><stop offset="0.500" stop-color="#f9d72d"/><stop offset="0.583" stop-color="#fec735"/><stop offset="0.667" stop-color="#f0ba36"/><stop offset="0.750" stop-color="#b8c431"/><stop offset="0.833" stop-color="#42ca8b"/><stop offset="0.917" stop-color="#26c2ac"/><stop offset="1.000" stop-color="#21c1b0"/></linearGradient><linearGradient id="s21" gradientUnits="userSpaceOnUse" x1="91.2" y1="0" x2="207.0" y2="0"><stop offset="0.000" stop-color="#2fc5a2"/><stop offset="0.083" stop-color="#73cd63"/><stop offset="0.167" stop-color="#d9be28"/><stop offset="0.250" stop-color="#fabb3d"/><stop offset="0.333" stop-color="#fdcb33"/><stop offset="0.417" stop-color="#fad52d"/><stop offset="0.500" stop-color="#fbd22f"/><stop offset="0.583" stop-color="#fec537"/><stop offset="0.667" stop-color="#edba33"/><stop offset="0.750" stop-color="#b2c635"/><stop offset="0.833" stop-color="#3fca8e"/><stop offset="0.917" stop-color="#26c2ad"/><stop offset="1.000" stop-color="#22c1b0"/></linearGradient><linearGradient id="s20" gradientUnits="userSpaceOnUse" x1="92.7" y1="0" x2="208.5" y2="0"><stop offset="0.000" stop-color="#2fc5a2"/><stop offset="0.083" stop-color="#71cd64"/><stop offset="0.167" stop-color="#d7be28"/><stop offset="0.250" stop-color="#f8ba3d"/><stop offset="0.333" stop-color="#fec934"/><stop offset="0.417" stop-color="#fbd22f"/><stop offset="0.500" stop-color="#fccf30"/><stop offset="0.583" stop-color="#fec239"/><stop offset="0.667" stop-color="#eaba31"/><stop offset="0.750" stop-color="#aac73a"/><stop offset="0.833" stop-color="#3cc991"/><stop offset="0.917" stop-color="#26c2ad"/><stop offset="1.000" stop-color="#23c1af"/></linearGradient><linearGradient id="s19" gradientUnits="userSpaceOnUse" x1="94.2" y1="0" x2="210.0" y2="0"><stop offset="0.000" stop-color="#2fc5a2"/><stop offset="0.083" stop-color="#6ecd66"/><stop offset="0.167" stop-color="#d4bf27"/><stop offset="0.250" stop-color="#f5ba3b"/><stop offset="0.333" stop-color="#fec636"/><stop offset="0.417" stop-color="#fccf30"/><stop offset="0.500" stop-color="#fdcc32"/><stop offset="0.583" stop-color="#fec03b"/><stop offset="0.667" stop-color="#e7bb2e"/><stop offset="0.750" stop-color="#a2c840"/><stop offset="0.833" stop-color="#39c995"/><stop offset="0.917" stop-color="#26c2ad"/><stop offset="1.000" stop-color="#24c1af"/></linearGradient><linearGradient id="s18" gradientUnits="userSpaceOnUse" x1="95.7" y1="0" x2="211.5" y2="0"><stop offset="0.000" stop-color="#30c5a2"/><stop offset="0.083" stop-color="#6ccd69"/><stop offset="0.167" stop-color="#d0c028"/><stop offset="0.250" stop-color="#f3ba39"/><stop offset="0.333" stop-color="#fec438"/><stop offset="0.417" stop-color="#fdcc32"/><stop offset="0.500" stop-color="#fec934"/><stop offset="0.583" stop-color="#fdbd3d"/><stop offset="0.667" stop-color="#e3bc2c"/><stop offset="0.750" stop-color="#98c946"/><stop offset="0.833" stop-color="#37c898"/><stop offset="0.917" stop-color="#26c2ad"/><stop offset="1.000" stop-color="#24c2ae"/></linearGradient><linearGradient id="s17" gradientUnits="userSpaceOnUse" x1="97.2" y1="0" x2="213.0" y2="0"><stop offset="0.000" stop-color="#30c5a2"/><stop offset="0.083" stop-color="#69cd6b"/><stop offset="0.167" stop-color="#cbc029"/><stop offset="0.250" stop-color="#f0ba36"/><stop offset="0.333" stop-color="#fec13a"/><stop offset="0.417" stop-color="#fec934"/><stop offset="0.500" stop-color="#fec636"/><stop offset="0.583" stop-color="#fabb3d"/><stop offset="0.667" stop-color="#dfbc2a"/><stop offset="0.750" stop-color="#8fcb4e"/><stop offset="0.833" stop-color="#35c79b"/><stop offset="0.917" stop-color="#26c2ac"/><stop offset="1.000" stop-color="#25c2ad"/></linearGradient><linearGradient id="s16" gradientUnits="userSpaceOnUse" x1="98.6" y1="0" x2="214.4" y2="0"><stop offset="0.000" stop-color="#30c5a1"/><stop offset="0.083" stop-color="#66cd6d"/><stop offset="0.167" stop-color="#c7c12a"/><stop offset="0.250" stop-color="#edba34"/><stop offset="0.333" stop-color="#febf3c"/><stop offset="0.417" stop-color="#fec636"/><stop offset="0.500" stop-color="#fec338"/><stop offset="0.583" stop-color="#f7ba3c"/><stop offset="0.667" stop-color="#dbbd29"/><stop offset="0.750" stop-color="#86cb55"/><stop offset="0.833" stop-color="#33c69d"/><stop offset="0.917" stop-color="#26c2ac"/><stop offset="1.000" stop-color="#26c2ad"/></linearGradient><linearGradient id="s15" gradientUnits="userSpaceOnUse" x1="100.1" y1="0" x2="215.9" y2="0"><stop offset="0.000" stop-color="#30c5a1"/><stop offset="0.083" stop-color="#63cd6f"/><stop offset="0.167" stop-color="#c2c22c"/><stop offset="0.250" stop-color="#eaba31"/><stop offset="0.333" stop-color="#fcbd3d"/><stop offset="0.417" stop-color="#fec339"/><stop offset="0.500" stop-color="#fec03b"/><stop offset="0.583" stop-color="#f3ba38"/><stop offset="0.667" stop-color="#d7be28"/><stop offset="0.750" stop-color="#7ccc5c"/><stop offset="0.833" stop-color="#32c69f"/><stop offset="0.917" stop-color="#27c2ac"/><stop offset="1.000" stop-color="#26c2ac"/></linearGradient><linearGradient id="s14" gradientUnits="userSpaceOnUse" x1="101.6" y1="0" x2="217.4" y2="0"><stop offset="0.000" stop-color="#31c6a0"/><stop offset="0.083" stop-color="#61cd71"/><stop offset="0.167" stop-color="#bdc42f"/><stop offset="0.250" stop-color="#e7bb2e"/><stop offset="0.333" stop-color="#f9bb3d"/><stop offset="0.417" stop-color="#febf3b"/><stop offset="0.500" stop-color="#fdbd3d"/><stop offset="0.583" stop-color="#efba35"/><stop offset="0.667" stop-color="#cfc028"/><stop offset="0.750" stop-color="#72cd64"/><stop offset="0.833" stop-color="#31c6a0"/><stop offset="0.917" stop-color="#27c2ac"/><stop offset="1.000" stop-color="#27c2ac"/></linearGradient><linearGradient id="s13" gradientUnits="userSpaceOnUse" x1="103.1" y1="0" x2="218.9" y2="0"><stop offset="0.000" stop-color="#31c6a0"/><stop offset="0.083" stop-color="#5fcd73"/><stop offset="0.167" stop-color="#b7c532"/><stop offset="0.250" stop-color="#e4bb2c"/><stop offset="0.333" stop-color="#f6ba3b"/><stop offset="0.417" stop-color="#fdbd3d"/><stop offset="0.500" stop-color="#fabb3d"/><stop offset="0.583" stop-color="#eaba31"/><stop offset="0.667" stop-color="#c6c22a"/><stop offset="0.750" stop-color="#69cd6b"/><stop offset="0.833" stop-color="#30c5a1"/><stop offset="0.917" stop-color="#28c2ab"/><stop offset="1.000" stop-color="#28c2ab"/></linearGradient><linearGradient id="s12" gradientUnits="userSpaceOnUse" x1="104.6" y1="0" x2="220.4" y2="0"><stop offset="0.000" stop-color="#32c69f"/><stop offset="0.083" stop-color="#5ccc75"/><stop offset="0.167" stop-color="#b2c635"/><stop offset="0.250" stop-color="#e0bc2b"/><stop offset="0.333" stop-color="#f2ba38"/><stop offset="0.417" stop-color="#f9bb3d"/><stop offset="0.500" stop-color="#f5ba3b"/><stop offset="0.583" stop-color="#e6bb2d"/><stop offset="0.667" stop-color="#bdc32e"/><stop offset="0.750" stop-color="#60cd72"/><stop offset="0.833" stop-color="#30c5a2"/><stop offset="0.917" stop-color="#28c3aa"/><stop offset="1.000" stop-color="#28c3aa"/></linearGradient><linearGradient id="s11" gradientUnits="userSpaceOnUse" x1="106.1" y1="0" x2="221.9" y2="0"><stop offset="0.000" stop-color="#32c69e"/><stop offset="0.083" stop-color="#5bcc77"/><stop offset="0.167" stop-color="#abc739"/><stop offset="0.250" stop-color="#ddbd29"/><stop offset="0.333" stop-color="#eeba34"/><stop offset="0.417" stop-color="#f5ba3a"/><stop offset="0.500" stop-color="#f1ba37"/><stop offset="0.583" stop-color="#e1bc2b"/><stop offset="0.667" stop-color="#b3c534"/><stop offset="0.750" stop-color="#58cc79"/><stop offset="0.833" stop-color="#2fc5a3"/><stop offset="0.917" stop-color="#29c3aa"/><stop offset="1.000" stop-color="#29c3aa"/></linearGradient><linearGradient id="s10" gradientUnits="userSpaceOnUse" x1="107.5" y1="0" x2="223.3" y2="0"><stop offset="0.000" stop-color="#33c69d"/><stop offset="0.083" stop-color="#59cc78"/><stop offset="0.167" stop-color="#a4c83e"/><stop offset="0.250" stop-color="#d9be28"/><stop offset="0.333" stop-color="#eabb30"/><stop offset="0.417" stop-color="#f1ba36"/><stop offset="0.500" stop-color="#ecba33"/><stop offset="0.583" stop-color="#dcbd29"/><stop offset="0.667" stop-color="#a8c73b"/><stop offset="0.750" stop-color="#50cc7f"/><stop offset="0.833" stop-color="#2ec5a4"/><stop offset="0.917" stop-color="#2ac3a9"/><stop offset="1.000" stop-color="#2ac3a9"/></linearGradient><linearGradient id="s9" gradientUnits="userSpaceOnUse" x1="109.0" y1="0" x2="224.8" y2="0"><stop offset="0.000" stop-color="#35c79a"/><stop offset="0.083" stop-color="#58cc79"/><stop offset="0.167" stop-color="#9dc943"/><stop offset="0.250" stop-color="#d3bf27"/><stop offset="0.333" stop-color="#e6bb2d"/><stop offset="0.417" stop-color="#ecba32"/><stop offset="0.500" stop-color="#e8bb2e"/><stop offset="0.583" stop-color="#d7be28"/><stop offset="0.667" stop-color="#9bc944"/><stop offset="0.750" stop-color="#49cb85"/><stop offset="0.833" stop-color="#2ec4a4"/><stop offset="0.917" stop-color="#2ac3a8"/><stop offset="1.000" stop-color="#2ac3a9"/></linearGradient><linearGradient id="s8" gradientUnits="userSpaceOnUse" x1="110.5" y1="0" x2="226.3" y2="0"><stop offset="0.000" stop-color="#38c896"/><stop offset="0.083" stop-color="#58cc79"/><stop offset="0.167" stop-color="#96ca49"/><stop offset="0.250" stop-color="#cbc129"/><stop offset="0.333" stop-color="#e1bc2b"/><stop offset="0.417" stop-color="#e7bb2e"/><stop offset="0.500" stop-color="#e2bc2b"/><stop offset="0.583" stop-color="#cdc028"/><stop offset="0.667" stop-color="#8fcb4e"/><stop offset="0.750" stop-color="#43ca8b"/><stop offset="0.833" stop-color="#2dc4a5"/><stop offset="0.917" stop-color="#2bc3a8"/><stop offset="1.000" stop-color="#2bc3a8"/></linearGradient><linearGradient id="s7" gradientUnits="userSpaceOnUse" x1="112.0" y1="0" x2="227.8" y2="0"><stop offset="0.000" stop-color="#3cc992"/><stop offset="0.083" stop-color="#58cc79"/><stop offset="0.167" stop-color="#8fcb4e"/><stop offset="0.250" stop-color="#c3c22b"/><stop offset="0.333" stop-color="#dcbd29"/><stop offset="0.417" stop-color="#e2bc2b"/><stop offset="0.500" stop-color="#ddbd29"/><stop offset="0.583" stop-color="#c3c22b"/><stop offset="0.667" stop-color="#82cc58"/><stop offset="0.750" stop-color="#3eca8f"/><stop offset="0.833" stop-color="#2dc4a5"/><stop offset="0.917" stop-color="#2cc4a7"/><stop offset="1.000" stop-color="#2cc4a7"/></linearGradient><linearGradient id="s6" gradientUnits="userSpaceOnUse" x1="113.5" y1="0" x2="229.3" y2="0"><stop offset="0.000" stop-color="#41ca8c"/><stop offset="0.083" stop-color="#59cc78"/><stop offset="0.167" stop-color="#88cb53"/><stop offset="0.250" stop-color="#bbc430"/><stop offset="0.333" stop-color="#d7be28"/><stop offset="0.417" stop-color="#ddbd29"/><stop offset="0.500" stop-color="#d8be28"/><stop offset="0.583" stop-color="#b8c431"/><stop offset="0.667" stop-color="#76cc61"/><stop offset="0.750" stop-color="#3ac994"/><stop offset="0.833" stop-color="#2dc4a5"/><stop offset="0.917" stop-color="#2cc4a7"/><stop offset="1.000" stop-color="#2cc4a7"/></linearGradient><linearGradient id="s5" gradientUnits="userSpaceOnUse" x1="114.9" y1="0" x2="230.7" y2="0"><stop offset="0.000" stop-color="#4acb85"/><stop offset="0.083" stop-color="#5acc77"/><stop offset="0.167" stop-color="#81cc59"/><stop offset="0.250" stop-color="#b2c635"/><stop offset="0.333" stop-color="#cec028"/><stop offset="0.417" stop-color="#d7be28"/><stop offset="0.500" stop-color="#cec028"/><stop offset="0.583" stop-color="#adc738"/><stop offset="0.667" stop-color="#6acd6a"/><stop offset="0.750" stop-color="#37c898"/><stop offset="0.833" stop-color="#2dc4a5"/><stop offset="0.917" stop-color="#2dc4a6"/><stop offset="1.000" stop-color="#2dc4a6"/></linearGradient><linearGradient id="s4" gradientUnits="userSpaceOnUse" x1="116.4" y1="0" x2="232.2" y2="0"><stop offset="0.000" stop-color="#55cc7c"/><stop offset="0.083" stop-color="#5ccc76"/><stop offset="0.167" stop-color="#7acc5e"/><stop offset="0.250" stop-color="#a7c73c"/><stop offset="0.333" stop-color="#c4c22b"/><stop offset="0.417" stop-color="#cec028"/><stop offset="0.500" stop-color="#c3c22b"/><stop offset="0.583" stop-color="#9fc942"/><stop offset="0.667" stop-color="#60cd72"/><stop offset="0.750" stop-color="#34c79b"/><stop offset="0.833" stop-color="#2dc4a5"/><stop offset="0.917" stop-color="#2dc4a5"/><stop offset="1.000" stop-color="#2dc4a5"/></linearGradient><linearGradient id="s3" gradientUnits="userSpaceOnUse" x1="117.9" y1="0" x2="233.7" y2="0"><stop offset="0.000" stop-color="#62cd70"/><stop offset="0.083" stop-color="#5ecd74"/><stop offset="0.167" stop-color="#73cd62"/><stop offset="0.250" stop-color="#9cc944"/><stop offset="0.333" stop-color="#bac430"/><stop offset="0.417" stop-color="#c3c22b"/><stop offset="0.500" stop-color="#b8c431"/><stop offset="0.583" stop-color="#91ca4d"/><stop offset="0.667" stop-color="#57cc7a"/><stop offset="0.750" stop-color="#33c69e"/><stop offset="0.833" stop-color="#2ec4a4"/><stop offset="0.917" stop-color="#2ec4a5"/><stop offset="1.000" stop-color="#2ec4a5"/></linearGradient><linearGradient id="s2" gradientUnits="userSpaceOnUse" x1="119.4" y1="0" x2="235.2" y2="0"><stop offset="0.000" stop-color="#73cd63"/><stop offset="0.083" stop-color="#60cd72"/><stop offset="0.167" stop-color="#6dcd67"/><stop offset="0.250" stop-color="#91ca4c"/><stop offset="0.333" stop-color="#afc636"/><stop offset="0.417" stop-color="#b8c431"/><stop offset="0.500" stop-color="#acc739"/><stop offset="0.583" stop-color="#83cc57"/><stop offset="0.667" stop-color="#4ecc81"/><stop offset="0.750" stop-color="#32c69f"/><stop offset="0.833" stop-color="#2ec5a4"/><stop offset="0.917" stop-color="#2ec5a4"/><stop offset="1.000" stop-color="#2ec4a4"/></linearGradient><linearGradient id="s1" gradientUnits="userSpaceOnUse" x1="120.9" y1="0" x2="236.7" y2="0"><stop offset="0.000" stop-color="#88cb53"/><stop offset="0.083" stop-color="#61cd71"/><stop offset="0.167" stop-color="#67cd6c"/><stop offset="0.250" stop-color="#86cb55"/><stop offset="0.333" stop-color="#a2c83f"/><stop offset="0.417" stop-color="#acc738"/><stop offset="0.500" stop-color="#9dc943"/><stop offset="0.583" stop-color="#76cc61"/><stop offset="0.667" stop-color="#47cb87"/><stop offset="0.750" stop-color="#31c6a0"/><stop offset="0.833" stop-color="#2fc5a3"/><stop offset="0.917" stop-color="#2fc5a3"/><stop offset="1.000" stop-color="#2fc5a3"/></linearGradient><linearGradient id="s0" gradientUnits="userSpaceOnUse" x1="122.4" y1="0" x2="238.2" y2="0"><stop offset="0.000" stop-color="#9fc941"/><stop offset="0.083" stop-color="#62cd71"/><stop offset="0.167" stop-color="#61cd71"/><stop offset="0.250" stop-color="#7bcc5d"/><stop offset="0.333" stop-color="#95ca49"/><stop offset="0.417" stop-color="#9ec942"/><stop offset="0.500" stop-color="#8fcb4e"/><stop offset="0.583" stop-color="#69cd6a"/><stop offset="0.667" stop-color="#41ca8c"/><stop offset="0.750" stop-color="#31c6a0"/><stop offset="0.833" stop-color="#2fc5a2"/><stop offset="0.917" stop-color="#2fc5a3"/><stop offset="1.000" stop-color="#2fc5a3"/></linearGradient><linearGradient id="spk" x1="0" y1="0" x2="0" y2="1"><stop offset="0.000" stop-color="#fec437"/><stop offset="0.083" stop-color="#fdbd3d"/><stop offset="0.167" stop-color="#e2bc2b"/><stop offset="0.250" stop-color="#a2c840"/><stop offset="0.333" stop-color="#3fca8e"/><stop offset="0.417" stop-color="#1fc0b1"/><stop offset="0.500" stop-color="#01b8ca"/><stop offset="0.583" stop-color="#1fa6e2"/><stop offset="0.667" stop-color="#2c8ff1"/><stop offset="0.750" stop-color="#3a74fe"/><stop offset="0.833" stop-color="#4758f8"/><stop offset="0.917" stop-color="#463ddf"/><stop offset="1.000" stop-color="#3f28ad"/></linearGradient></defs>
<path d="M123.1 388.1L34.8 347.7M146.3 381.9L58.0 341.5M169.4 375.8L81.1 335.4M192.6 369.6L104.3 329.2M215.7 363.5L127.4 323.1M238.9 357.3L150.6 316.9M123.1 388.1L238.9 357.3M78.9 367.9L194.8 337.1M34.8 347.7L150.6 316.9M34.8 263.7L150.6 232.9L238.9 273.3M34.8 277.7L150.6 246.9L238.9 287.3M34.8 291.7L150.6 260.9L238.9 301.3M34.8 305.7L150.6 274.9L238.9 315.3M34.8 319.7L150.6 288.9L238.9 329.3M34.8 333.7L150.6 302.9L238.9 343.3M34.8 347.7L150.6 316.9L238.9 357.3M34.8 347.7v-89.0M58.0 341.5v-89.0M81.1 335.4v-89.0M104.3 329.2v-89.0M127.4 323.1v-89.0M150.6 316.9v-89.0M238.9 357.3v-89.0M194.8 337.1v-89.0M150.6 316.9v-89.0M34.8 258.7L150.6 227.9L238.9 268.3" fill="none" stroke="#e3e3e3" stroke-width=".6"/>
<path d="M34.8 258.7L34.8 347.7L123.1 388.1L238.9 357.3M34.8 263.7h-1.8M34.8 277.7h-1.8M34.8 291.7h-1.8M34.8 305.7h-1.8M34.8 319.7h-1.8M34.8 333.7h-1.8M34.8 347.7h-1.8M123.1 388.1l1.6 -.5M78.9 367.9l1.6 -.5M34.8 347.7l1.6 -.5M123.1 388.1l-1.2 -.6M146.3 381.9l-1.2 -.6M169.4 375.8l-1.2 -.6M192.6 369.6l-1.2 -.6M215.7 363.5l-1.2 -.6M238.9 357.3l-1.2 -.6" fill="none" stroke="#6e6e6e" stroke-width=".55"/>
<g stroke-width=".8" stroke-linejoin="round">
<polygon fill="url(#s55)" stroke="url(#s55)" points="40.1,304.3 44.2,303.0 48.4,300.9 52.5,298.2 56.6,295.0 60.8,291.6 64.9,288.1 69.0,284.6 73.2,281.2 77.3,278.1 81.5,275.3 85.6,272.8 89.7,270.9 93.9,269.3 98.0,268.3 102.1,267.7 106.3,267.6 110.4,268.0 114.5,268.7 118.7,269.8 122.8,271.1 126.9,272.4 131.1,273.7 135.2,274.8 139.4,275.4 143.5,275.5 147.6,274.8 151.8,273.7 155.9,272.6 157.4,273.1 153.2,274.2 149.1,275.4 145.0,275.8 140.8,275.5 136.7,274.7 132.6,273.5 128.4,272.0 124.3,270.6 120.2,269.2 116.0,268.0 111.9,267.2 107.8,266.8 103.6,266.8 99.5,267.3 95.3,268.4 91.2,269.9 87.1,271.9 82.9,274.4 78.8,277.2 74.7,280.4 70.5,283.9 66.4,287.5 62.3,291.2 58.1,294.7 54.0,298.0 49.9,301.0 45.7,303.3 41.6,304.8"/>
<polygon fill="url(#s54)" stroke="url(#s54)" points="40.7,304.5 44.8,303.1 49.0,300.9 53.1,298.1 57.2,294.9 61.4,291.4 65.5,287.8 69.6,284.3 73.8,280.9 77.9,277.7 82.0,274.9 86.2,272.5 90.3,270.5 94.5,268.9 98.6,267.9 102.7,267.3 106.9,267.3 111.0,267.7 115.1,268.5 119.3,269.6 123.4,270.9 127.5,272.2 131.7,273.6 135.8,274.7 139.9,275.5 144.1,275.7 148.2,275.0 152.4,273.9 156.5,272.8 158.9,273.6 154.7,274.8 150.6,275.8 146.5,276.1 142.3,275.6 138.2,274.6 134.0,273.2 129.9,271.7 125.8,270.1 121.6,268.6 117.5,267.3 113.4,266.4 109.2,265.9 105.1,265.9 101.0,266.4 96.8,267.4 92.7,269.0 88.6,271.0 84.4,273.5 80.3,276.4 76.1,279.7 72.0,283.2 67.9,286.9 63.7,290.7 59.6,294.4 55.5,297.9 51.3,301.0 47.2,303.6 43.1,305.3"/>
<polygon fill="url(#s53)" stroke="url(#s53)" points="42.2,305.0 46.3,303.4 50.4,301.0 54.6,298.0 58.7,294.6 62.9,291.0 67.0,287.3 71.1,283.6 75.3,280.1 79.4,276.9 83.5,274.0 87.7,271.5 91.8,269.5 95.9,268.0 100.1,267.0 104.2,266.4 108.3,266.4 112.5,266.9 116.6,267.8 120.8,268.9 124.9,270.4 129.0,271.9 133.2,273.4 137.3,274.7 141.4,275.6 145.6,276.0 149.7,275.5 153.8,274.4 158.0,273.3 160.3,274.2 156.2,275.3 152.1,276.3 147.9,276.4 143.8,275.7 139.7,274.5 135.5,273.0 131.4,271.3 127.3,269.6 123.1,268.0 119.0,266.7 114.9,265.7 110.7,265.1 106.6,265.1 102.4,265.5 98.3,266.6 94.2,268.1 90.0,270.1 85.9,272.6 81.8,275.6 77.6,278.9 73.5,282.5 69.4,286.4 65.2,290.3 61.1,294.1 57.0,297.7 52.8,301.0 48.7,303.8 44.5,305.8"/>
<polygon fill="url(#s52)" stroke="url(#s52)" points="43.7,305.5 47.8,303.6 51.9,301.0 56.1,297.8 60.2,294.3 64.3,290.5 68.5,286.7 72.6,282.9 76.7,279.4 80.9,276.1 85.0,273.1 89.1,270.6 93.3,268.6 97.4,267.1 101.6,266.1 105.7,265.6 109.8,265.6 114.0,266.1 118.1,267.1 122.2,268.4 126.4,269.9 130.5,271.5 134.6,273.1 138.8,274.6 142.9,275.7 147.0,276.2 151.2,276.0 155.3,275.0 159.5,273.8 161.8,274.7 157.7,275.8 153.6,276.7 149.4,276.6 145.3,275.8 141.1,274.5 137.0,272.8 132.9,271.0 128.7,269.2 124.6,267.5 120.5,266.1 116.3,265.0 112.2,264.4 108.1,264.3 103.9,264.7 99.8,265.7 95.7,267.2 91.5,269.3 87.4,271.8 83.2,274.8 79.1,278.2 75.0,281.9 70.8,285.8 66.7,289.8 62.6,293.8 58.4,297.6 54.3,301.0 50.2,304.0 46.0,306.2"/>
<polygon fill="url(#s51)" stroke="url(#s51)" points="45.1,305.9 49.3,303.8 53.4,301.0 57.5,297.7 61.7,294.0 65.8,290.1 70.0,286.1 74.1,282.3 78.2,278.6 82.4,275.3 86.5,272.3 90.6,269.8 94.8,267.7 98.9,266.2 103.0,265.2 107.2,264.8 111.3,264.8 115.4,265.4 119.6,266.4 123.7,267.8 127.9,269.4 132.0,271.2 136.1,272.9 140.3,274.5 144.4,275.8 148.5,276.5 152.7,276.4 156.8,275.5 160.9,274.4 163.3,275.2 159.2,276.4 155.0,277.1 150.9,276.8 146.8,275.9 142.6,274.4 138.5,272.6 134.4,270.7 130.2,268.8 126.1,267.0 122.0,265.5 117.8,264.4 113.7,263.7 109.5,263.5 105.4,263.9 101.3,264.9 97.1,266.4 93.0,268.5 88.9,271.1 84.7,274.1 80.6,277.5 76.5,281.3 72.3,285.3 68.2,289.4 64.1,293.5 59.9,297.4 55.8,301.0 51.6,304.1 47.5,306.5"/>
<polygon fill="url(#s50)" stroke="url(#s50)" points="46.6,306.3 50.8,304.0 54.9,301.0 59.0,297.5 63.2,293.7 67.3,289.6 71.4,285.6 75.6,281.7 79.7,277.9 83.8,274.5 88.0,271.5 92.1,269.0 96.2,266.9 100.4,265.4 104.5,264.4 108.7,264.0 112.8,264.1 116.9,264.7 121.1,265.8 125.2,267.3 129.3,269.0 133.5,270.9 137.6,272.7 141.7,274.4 145.9,275.8 150.0,276.7 154.1,276.8 158.3,276.0 162.4,274.9 164.8,275.8 160.7,276.9 156.5,277.5 152.4,277.1 148.2,276.0 144.1,274.4 140.0,272.4 135.8,270.4 131.7,268.4 127.6,266.5 123.4,265.0 119.3,263.8 115.2,263.0 111.0,262.9 106.9,263.2 102.8,264.2 98.6,265.7 94.5,267.8 90.3,270.4 86.2,273.4 82.1,276.9 77.9,280.7 73.8,284.8 69.7,289.0 65.5,293.2 61.4,297.2 57.3,301.0 53.1,304.2 49.0,306.8"/>
<polygon fill="url(#s49)" stroke="url(#s49)" points="48.1,306.6 52.2,304.2 56.4,301.0 60.5,297.3 64.6,293.4 68.8,289.2 72.9,285.1 77.1,281.1 81.2,277.3 85.3,273.8 89.5,270.8 93.6,268.2 97.7,266.1 101.9,264.6 106.0,263.7 110.1,263.3 114.3,263.4 118.4,264.1 122.5,265.3 126.7,266.8 130.8,268.6 135.0,270.6 139.1,272.5 143.2,274.4 147.4,275.9 151.5,276.9 155.6,277.2 159.8,276.6 163.9,275.4 166.3,276.3 162.1,277.4 158.0,277.8 153.9,277.3 149.7,276.1 145.6,274.3 141.5,272.3 137.3,270.2 133.2,268.1 129.1,266.1 124.9,264.5 120.8,263.2 116.6,262.5 112.5,262.2 108.4,262.6 104.2,263.5 100.1,265.0 96.0,267.1 91.8,269.7 87.7,272.8 83.6,276.3 79.4,280.2 75.3,284.3 71.2,288.6 67.0,292.9 62.9,297.1 58.7,300.9 54.6,304.4 50.5,307.1"/>
<polygon fill="url(#s48)" stroke="url(#s48)" points="49.6,306.9 53.7,304.3 57.9,301.0 62.0,297.2 66.1,293.1 70.3,288.8 74.4,284.6 78.5,280.5 82.7,276.7 86.8,273.2 90.9,270.1 95.1,267.5 99.2,265.4 103.3,263.9 107.5,263.0 111.6,262.6 115.8,262.8 119.9,263.5 124.0,264.8 128.2,266.4 132.3,268.2 136.4,270.3 140.6,272.4 144.7,274.3 148.8,276.0 153.0,277.2 157.1,277.6 161.2,277.1 165.4,276.0 167.8,276.8 163.6,277.9 159.5,278.2 155.3,277.5 151.2,276.2 147.1,274.3 142.9,272.2 138.8,270.0 134.7,267.8 130.5,265.8 126.4,264.1 122.3,262.8 118.1,261.9 114.0,261.7 109.9,262.0 105.7,262.9 101.6,264.4 97.4,266.5 93.3,269.1 89.2,272.2 85.0,275.8 80.9,279.7 76.8,283.9 72.6,288.3 68.5,292.6 64.4,296.9 60.2,300.9 56.1,304.5 52.0,307.4"/>
<polygon fill="url(#s47)" stroke="url(#s47)" points="51.1,307.2 55.2,304.4 59.3,300.9 63.5,297.0 67.6,292.8 71.7,288.5 75.9,284.2 80.0,280.0 84.2,276.1 88.3,272.6 92.4,269.5 96.6,266.9 100.7,264.8 104.8,263.3 109.0,262.3 113.1,262.0 117.2,262.2 121.4,263.0 125.5,264.3 129.6,266.0 133.8,267.9 137.9,270.1 142.1,272.3 146.2,274.3 150.3,276.1 154.5,277.4 158.6,278.0 162.7,277.6 166.9,276.5 169.2,277.4 165.1,278.4 161.0,278.5 156.8,277.8 152.7,276.3 148.6,274.4 144.4,272.2 140.3,269.8 136.2,267.6 132.0,265.5 127.9,263.7 123.7,262.4 119.6,261.5 115.5,261.2 111.3,261.5 107.2,262.4 103.1,263.9 98.9,266.0 94.8,268.6 90.7,271.7 86.5,275.3 82.4,279.3 78.3,283.5 74.1,288.0 70.0,292.4 65.8,296.8 61.7,300.9 57.6,304.6 53.4,307.6"/>
<polygon fill="url(#s46)" stroke="url(#s46)" points="52.5,307.5 56.7,304.5 60.8,300.9 65.0,296.9 69.1,292.6 73.2,288.1 77.4,283.8 81.5,279.5 85.6,275.6 89.8,272.0 93.9,268.9 98.0,266.3 102.2,264.2 106.3,262.7 110.4,261.8 114.6,261.5 118.7,261.8 122.9,262.6 127.0,263.9 131.1,265.7 135.3,267.7 139.4,269.9 143.5,272.2 147.7,274.3 151.8,276.2 155.9,277.6 160.1,278.3 164.2,278.1 168.3,277.0 170.7,277.9 166.6,278.9 162.4,278.9 158.3,278.0 154.2,276.5 150.0,274.4 145.9,272.1 141.8,269.7 137.6,267.4 133.5,265.3 129.4,263.4 125.2,262.0 121.1,261.1 117.0,260.8 112.8,261.1 108.7,262.0 104.5,263.4 100.4,265.5 96.3,268.2 92.1,271.3 88.0,274.9 83.9,278.9 79.7,283.2 75.6,287.7 71.5,292.2 67.3,296.7 63.2,300.9 59.1,304.7 54.9,307.9"/>
<polygon fill="url(#s45)" stroke="url(#s45)" points="54.0,307.8 58.2,304.6 62.3,300.9 66.4,296.8 70.6,292.4 74.7,287.9 78.8,283.4 83.0,279.1 87.1,275.2 91.3,271.6 95.4,268.4 99.5,265.8 103.7,263.7 107.8,262.2 111.9,261.3 116.1,261.0 120.2,261.3 124.3,262.2 128.5,263.6 132.6,265.4 136.7,267.5 140.9,269.8 145.0,272.1 149.2,274.4 153.3,276.4 157.4,277.9 161.6,278.7 165.7,278.6 169.8,277.6 172.2,278.4 168.1,279.4 163.9,279.3 159.8,278.3 155.7,276.7 151.5,274.5 147.4,272.2 143.3,269.7 139.1,267.3 135.0,265.1 130.8,263.2 126.7,261.8 122.6,260.8 118.4,260.5 114.3,260.7 110.2,261.6 106.0,263.1 101.9,265.1 97.8,267.8 93.6,271.0 89.5,274.6 85.4,278.6 81.2,283.0 77.1,287.5 72.9,292.1 68.8,296.6 64.7,300.9 60.5,304.8 56.4,308.2"/>
<polygon fill="url(#s44)" stroke="url(#s44)" points="55.5,308.0 59.6,304.8 63.8,300.9 67.9,296.7 72.1,292.2 76.2,287.6 80.3,283.1 84.5,278.8 88.6,274.8 92.7,271.2 96.9,268.0 101.0,265.4 105.1,263.3 109.3,261.8 113.4,260.9 117.5,260.7 121.7,261.0 125.8,261.9 130.0,263.4 134.1,265.2 138.2,267.4 142.4,269.7 146.5,272.1 150.6,274.5 154.8,276.5 158.9,278.1 163.0,279.1 167.2,279.1 171.3,278.1 173.7,279.0 169.5,279.8 165.4,279.7 161.3,278.6 157.1,276.9 153.0,274.7 148.9,272.3 144.7,269.7 140.6,267.3 136.5,265.0 132.3,263.1 128.2,261.6 124.1,260.6 119.9,260.2 115.8,260.4 111.6,261.3 107.5,262.8 103.4,264.8 99.2,267.5 95.1,270.7 91.0,274.3 86.8,278.4 82.7,282.8 78.6,287.3 74.4,292.0 70.3,296.6 66.2,301.0 62.0,305.0 57.9,308.4"/>
<polygon fill="url(#s43)" stroke="url(#s43)" points="57.0,308.3 61.1,304.9 65.3,301.0 69.4,296.6 73.5,292.1 77.7,287.4 81.8,282.9 85.9,278.5 90.1,274.5 94.2,270.8 98.4,267.7 102.5,265.0 106.6,262.9 110.8,261.5 114.9,260.6 119.0,260.4 123.2,260.7 127.3,261.7 131.4,263.2 135.6,265.1 139.7,267.3 143.8,269.7 148.0,272.2 152.1,274.6 156.3,276.7 160.4,278.4 164.5,279.4 168.7,279.6 172.8,278.6 175.2,279.5 171.0,280.3 166.9,280.1 162.8,278.9 158.6,277.1 154.5,274.9 150.4,272.4 146.2,269.8 142.1,267.3 137.9,265.0 133.8,263.0 129.7,261.5 125.5,260.5 121.4,260.1 117.3,260.3 113.1,261.1 109.0,262.6 104.9,264.6 100.7,267.3 96.6,270.5 92.5,274.1 88.3,278.2 84.2,282.6 80.0,287.2 75.9,292.0 71.8,296.6 67.6,301.1 63.5,305.2 59.4,308.7"/>
<polygon fill="url(#s42)" stroke="url(#s42)" points="58.5,308.5 62.6,305.1 66.7,301.0 70.9,296.6 75.0,292.0 79.2,287.3 83.3,282.7 87.4,278.3 91.6,274.3 95.7,270.6 99.8,267.4 104.0,264.8 108.1,262.7 112.2,261.2 116.4,260.4 120.5,260.2 124.6,260.6 128.8,261.6 132.9,263.1 137.1,265.0 141.2,267.3 145.3,269.8 149.5,272.3 153.6,274.8 157.7,277.0 161.9,278.7 166.0,279.8 170.1,280.0 174.3,279.2 176.6,280.0 172.5,280.8 168.4,280.5 164.2,279.3 160.1,277.4 156.0,275.1 151.8,272.6 147.7,269.9 143.6,267.4 139.4,265.1 135.3,263.1 131.2,261.5 127.0,260.5 122.9,260.0 118.7,260.2 114.6,261.0 110.5,262.5 106.3,264.5 102.2,267.2 98.1,270.4 93.9,274.0 89.8,278.1 85.7,282.6 81.5,287.2 77.4,292.0 73.3,296.7 69.1,301.2 65.0,305.3 60.8,308.9"/>
<polygon fill="url(#s41)" stroke="url(#s41)" points="60.0,308.8 64.1,305.2 68.2,301.1 72.4,296.6 76.5,292.0 80.6,287.2 84.8,282.6 88.9,278.2 93.0,274.1 97.2,270.4 101.3,267.2 105.5,264.6 109.6,262.5 113.7,261.1 117.9,260.2 122.0,260.0 126.1,260.5 130.3,261.5 134.4,263.0 138.5,265.0 142.7,267.3 146.8,269.9 150.9,272.5 155.1,275.0 159.2,277.2 163.4,279.1 167.5,280.2 171.6,280.5 175.8,279.7 178.1,280.6 174.0,281.3 169.9,280.9 165.7,279.7 161.6,277.8 157.5,275.4 153.3,272.8 149.2,270.2 145.0,267.6 140.9,265.2 136.8,263.2 132.6,261.6 128.5,260.5 124.4,260.0 120.2,260.2 116.1,261.0 112.0,262.4 107.8,264.5 103.7,267.1 99.6,270.3 95.4,274.0 91.3,278.1 87.1,282.6 83.0,287.2 78.9,292.0 74.7,296.8 70.6,301.3 66.5,305.6 62.3,309.2"/>
<polygon fill="url(#s40)" stroke="url(#s40)" points="61.4,309.1 65.6,305.4 69.7,301.2 73.8,296.7 78.0,292.0 82.1,287.2 86.3,282.6 90.4,278.1 94.5,274.0 98.7,270.3 102.8,267.1 106.9,264.5 111.1,262.4 115.2,261.0 119.3,260.2 123.5,260.0 127.6,260.5 131.7,261.5 135.9,263.1 140.0,265.1 144.2,267.5 148.3,270.0 152.4,272.7 156.6,275.2 160.7,277.6 164.8,279.4 169.0,280.7 173.1,281.0 177.2,280.2 179.6,281.1 175.5,281.8 171.3,281.4 167.2,280.1 163.1,278.1 158.9,275.8 154.8,273.1 150.7,270.4 146.5,267.8 142.4,265.4 138.3,263.4 134.1,261.7 130.0,260.7 125.8,260.2 121.7,260.3 117.6,261.1 113.4,262.5 109.3,264.5 105.2,267.2 101.0,270.4 96.9,274.1 92.8,278.2 88.6,282.6 84.5,287.3 80.4,292.1 76.2,296.9 72.1,301.5 67.9,305.8 63.8,309.5"/>
<polygon fill="url(#s39)" stroke="url(#s39)" points="62.9,309.4 67.1,305.7 71.2,301.4 75.3,296.8 79.5,292.1 83.6,287.3 87.7,282.6 91.9,278.1 96.0,274.0 100.1,270.3 104.3,267.1 108.4,264.5 112.6,262.4 116.7,261.0 120.8,260.2 125.0,260.1 129.1,260.6 133.2,261.6 137.4,263.2 141.5,265.3 145.6,267.7 149.8,270.3 153.9,272.9 158.0,275.5 162.2,277.9 166.3,279.8 170.5,281.1 174.6,281.5 178.7,280.8 181.1,281.6 177.0,282.3 172.8,281.8 168.7,280.5 164.6,278.5 160.4,276.1 156.3,273.5 152.1,270.8 148.0,268.1 143.9,265.7 139.7,263.6 135.6,262.0 131.5,260.9 127.3,260.4 123.2,260.5 119.1,261.2 114.9,262.7 110.8,264.7 106.7,267.3 102.5,270.5 98.4,274.2 94.2,278.3 90.1,282.8 86.0,287.5 81.8,292.3 77.7,297.1 73.6,301.8 69.4,306.1 65.3,309.9"/>
<polygon fill="url(#s38)" stroke="url(#s38)" points="64.4,309.7 68.5,305.9 72.7,301.6 76.8,297.0 80.9,292.2 85.1,287.4 89.2,282.7 93.4,278.2 97.5,274.1 101.6,270.4 105.8,267.2 109.9,264.6 114.0,262.6 118.2,261.1 122.3,260.3 126.4,260.2 130.6,260.7 134.7,261.8 138.8,263.5 143.0,265.5 147.1,267.9 151.3,270.6 155.4,273.3 159.5,275.9 163.7,278.3 167.8,280.2 171.9,281.6 176.1,282.0 180.2,281.3 182.6,282.2 178.4,282.8 174.3,282.3 170.2,281.0 166.0,279.0 161.9,276.6 157.8,273.9 153.6,271.2 149.5,268.5 145.4,266.1 141.2,264.0 137.1,262.3 132.9,261.2 128.8,260.7 124.7,260.8 120.5,261.5 116.4,262.9 112.3,264.9 108.1,267.6 104.0,270.7 99.9,274.4 95.7,278.5 91.6,283.0 87.5,287.7 83.3,292.5 79.2,297.4 75.0,302.0 70.9,306.4 66.8,310.2"/>
<polygon fill="url(#s37)" stroke="url(#s37)" points="65.9,310.0 70.0,306.2 74.2,301.9 78.3,297.2 82.4,292.4 86.6,287.6 90.7,282.9 94.8,278.4 99.0,274.3 103.1,270.6 107.2,267.4 111.4,264.8 115.5,262.8 119.7,261.3 123.8,260.6 127.9,260.5 132.1,261.0 136.2,262.1 140.3,263.8 144.5,265.9 148.6,268.3 152.7,270.9 156.9,273.7 161.0,276.3 165.1,278.7 169.3,280.7 173.4,282.0 177.6,282.5 181.7,281.8 184.1,282.7 179.9,283.3 175.8,282.8 171.7,281.5 167.5,279.5 163.4,277.1 159.2,274.4 155.1,271.6 151.0,269.0 146.8,266.5 142.7,264.4 138.6,262.8 134.4,261.6 130.3,261.1 126.2,261.1 122.0,261.9 117.9,263.3 113.8,265.3 109.6,267.9 105.5,271.1 101.3,274.7 97.2,278.8 93.1,283.3 88.9,288.0 84.8,292.8 80.7,297.7 76.5,302.4 72.4,306.7 68.3,310.6"/>
<polygon fill="url(#s36)" stroke="url(#s36)" points="67.4,310.4 71.5,306.5 75.6,302.2 79.8,297.5 83.9,292.7 88.0,287.8 92.2,283.1 96.3,278.6 100.5,274.5 104.6,270.9 108.7,267.7 112.9,265.1 117.0,263.1 121.1,261.7 125.3,260.9 129.4,260.8 133.5,261.4 137.7,262.5 141.8,264.2 145.9,266.3 150.1,268.7 154.2,271.4 158.4,274.1 162.5,276.8 166.6,279.2 170.8,281.2 174.9,282.5 179.0,283.0 183.2,282.4 185.5,283.2 181.4,283.9 177.3,283.4 173.1,282.0 169.0,280.0 164.9,277.6 160.7,274.9 156.6,272.2 152.5,269.5 148.3,267.1 144.2,265.0 140.0,263.3 135.9,262.1 131.8,261.6 127.6,261.6 123.5,262.3 119.4,263.7 115.2,265.7 111.1,268.3 107.0,271.5 102.8,275.1 98.7,279.2 94.6,283.7 90.4,288.4 86.3,293.2 82.1,298.0 78.0,302.7 73.9,307.1 69.7,311.0"/>
<polygon fill="url(#s35)" stroke="url(#s35)" points="68.9,310.8 73.0,306.9 77.1,302.5 81.3,297.8 85.4,293.0 89.5,288.1 93.7,283.4 97.8,279.0 101.9,274.9 106.1,271.2 110.2,268.0 114.3,265.4 118.5,263.4 122.6,262.1 126.8,261.3 130.9,261.2 135.0,261.8 139.2,263.0 143.3,264.6 147.4,266.7 151.6,269.2 155.7,271.9 159.8,274.6 164.0,277.3 168.1,279.7 172.2,281.7 176.4,283.1 180.5,283.5 184.7,282.9 187.0,283.8 182.9,284.4 178.8,283.9 174.6,282.6 170.5,280.6 166.3,278.2 162.2,275.5 158.1,272.8 153.9,270.1 149.8,267.7 145.7,265.6 141.5,263.9 137.4,262.7 133.3,262.1 129.1,262.2 125.0,262.9 120.9,264.3 116.7,266.2 112.6,268.8 108.4,272.0 104.3,275.6 100.2,279.7 96.0,284.1 91.9,288.8 87.8,293.6 83.6,298.4 79.5,303.1 75.4,307.5 71.2,311.4"/>
<polygon fill="url(#s34)" stroke="url(#s34)" points="70.3,311.2 74.5,307.3 78.6,302.9 82.7,298.2 86.9,293.4 91.0,288.5 95.1,283.8 99.3,279.4 103.4,275.3 107.6,271.7 111.7,268.5 115.8,265.9 120.0,263.9 124.1,262.6 128.2,261.8 132.4,261.8 136.5,262.4 140.6,263.5 144.8,265.2 148.9,267.3 153.0,269.8 157.2,272.4 161.3,275.2 165.5,277.9 169.6,280.3 173.7,282.3 177.9,283.6 182.0,284.1 186.1,283.4 188.5,284.3 184.4,285.0 180.2,284.5 176.1,283.2 172.0,281.3 167.8,278.9 163.7,276.2 159.6,273.5 155.4,270.8 151.3,268.4 147.1,266.3 143.0,264.6 138.9,263.4 134.7,262.8 130.6,262.9 126.5,263.6 122.3,264.9 118.2,266.9 114.1,269.4 109.9,272.5 105.8,276.1 101.7,280.2 97.5,284.6 93.4,289.2 89.2,294.0 85.1,298.9 81.0,303.5 76.8,307.9 72.7,311.8"/>
<polygon fill="url(#s33)" stroke="url(#s33)" points="71.8,311.6 76.0,307.7 80.1,303.3 84.2,298.6 88.4,293.8 92.5,289.0 96.6,284.3 100.8,279.9 104.9,275.8 109.0,272.2 113.2,269.1 117.3,266.5 121.4,264.5 125.6,263.2 129.7,262.4 133.9,262.4 138.0,263.0 142.1,264.1 146.3,265.8 150.4,267.9 154.5,270.4 158.7,273.1 162.8,275.8 166.9,278.5 171.1,280.9 175.2,282.9 179.3,284.2 183.5,284.6 187.6,284.0 190.0,284.8 185.9,285.5 181.7,285.1 177.6,283.9 173.4,281.9 169.3,279.6 165.2,276.9 161.0,274.2 156.9,271.6 152.8,269.1 148.6,267.0 144.5,265.4 140.4,264.2 136.2,263.6 132.1,263.6 128.0,264.3 123.8,265.6 119.7,267.5 115.5,270.1 111.4,273.1 107.3,276.7 103.1,280.7 99.0,285.1 94.9,289.8 90.7,294.5 86.6,299.3 82.5,304.0 78.3,308.4 74.2,312.3"/>
<polygon fill="url(#s32)" stroke="url(#s32)" points="73.3,312.0 77.4,308.1 81.6,303.7 85.7,299.0 89.8,294.2 94.0,289.4 98.1,284.8 102.2,280.4 106.4,276.4 110.5,272.8 114.7,269.7 118.8,267.1 122.9,265.2 127.1,263.8 131.2,263.2 135.3,263.1 139.5,263.7 143.6,264.9 147.7,266.6 151.9,268.7 156.0,271.1 160.1,273.8 164.3,276.5 168.4,279.1 172.6,281.5 176.7,283.5 180.8,284.8 185.0,285.2 189.1,284.5 191.5,285.4 187.3,286.1 183.2,285.8 179.1,284.5 174.9,282.6 170.8,280.3 166.7,277.7 162.5,275.0 158.4,272.4 154.2,270.0 150.1,267.9 146.0,266.2 141.8,265.0 137.7,264.4 133.6,264.4 129.4,265.1 125.3,266.4 121.2,268.3 117.0,270.8 112.9,273.8 108.8,277.4 104.6,281.4 100.5,285.7 96.3,290.3 92.2,295.1 88.1,299.8 83.9,304.5 79.8,308.8 75.7,312.8"/>
<polygon fill="url(#s31)" stroke="url(#s31)" points="74.8,312.5 78.9,308.6 83.1,304.2 87.2,299.5 91.3,294.7 95.5,290.0 99.6,285.3 103.7,281.0 107.9,277.0 112.0,273.4 116.1,270.3 120.3,267.8 124.4,265.9 128.5,264.6 132.7,263.9 136.8,263.9 141.0,264.5 145.1,265.7 149.2,267.4 153.4,269.5 157.5,271.9 161.6,274.5 165.8,277.2 169.9,279.8 174.0,282.2 178.2,284.1 182.3,285.4 186.4,285.8 190.6,285.1 193.0,285.9 188.8,286.7 184.7,286.4 180.5,285.2 176.4,283.4 172.3,281.1 168.1,278.5 164.0,275.9 159.9,273.3 155.7,270.9 151.6,268.8 147.5,267.1 143.3,265.9 139.2,265.3 135.1,265.3 130.9,265.9 126.8,267.2 122.6,269.1 118.5,271.6 114.4,274.6 110.2,278.1 106.1,282.0 102.0,286.4 97.8,290.9 93.7,295.6 89.6,300.4 85.4,305.0 81.3,309.3 77.2,313.2"/>
<polygon fill="url(#s30)" stroke="url(#s30)" points="76.3,312.9 80.4,309.0 84.5,304.7 88.7,300.0 92.8,295.3 96.9,290.5 101.1,286.0 105.2,281.6 109.3,277.7 113.5,274.1 117.6,271.1 121.8,268.6 125.9,266.7 130.0,265.4 134.2,264.8 138.3,264.8 142.4,265.4 146.6,266.6 150.7,268.2 154.8,270.3 159.0,272.7 163.1,275.4 167.2,278.0 171.4,280.6 175.5,282.9 179.7,284.8 183.8,286.0 187.9,286.3 192.1,285.6 194.4,286.4 190.3,287.3 186.2,287.0 182.0,285.9 177.9,284.2 173.8,281.9 169.6,279.4 165.5,276.8 161.3,274.2 157.2,271.8 153.1,269.7 148.9,268.1 144.8,266.9 140.7,266.3 136.5,266.2 132.4,266.8 128.3,268.1 124.1,270.0 120.0,272.4 115.9,275.4 111.7,278.9 107.6,282.8 103.4,287.0 99.3,291.6 95.2,296.3 91.0,301.0 86.9,305.6 82.8,309.9 78.6,313.7"/>
<polygon fill="url(#s29)" stroke="url(#s29)" points="77.7,313.4 81.9,309.6 86.0,305.2 90.2,300.6 94.3,295.9 98.4,291.2 102.6,286.6 106.7,282.3 110.8,278.4 115.0,274.9 119.1,271.9 123.2,269.4 127.4,267.6 131.5,266.3 135.6,265.7 139.8,265.7 143.9,266.3 148.1,267.5 152.2,269.2 156.3,271.2 160.5,273.6 164.6,276.2 168.7,278.9 172.9,281.4 177.0,283.7 181.1,285.5 185.3,286.7 189.4,286.9 193.5,286.1 195.9,287.0 191.8,287.9 187.6,287.7 183.5,286.7 179.4,285.0 175.2,282.8 171.1,280.3 167.0,277.7 162.8,275.2 158.7,272.8 154.6,270.7 150.4,269.1 146.3,267.9 142.2,267.3 138.0,267.2 133.9,267.8 129.7,269.1 125.6,270.9 121.5,273.3 117.3,276.2 113.2,279.7 109.1,283.6 104.9,287.8 100.8,292.3 96.7,296.9 92.5,301.6 88.4,306.1 84.3,310.4 80.1,314.3"/>
<polygon fill="url(#s28)" stroke="url(#s28)" points="79.2,314.0 83.4,310.1 87.5,305.8 91.6,301.2 95.8,296.5 99.9,291.8 104.0,287.3 108.2,283.1 112.3,279.2 116.4,275.7 120.6,272.7 124.7,270.3 128.9,268.5 133.0,267.2 137.1,266.6 141.3,266.7 145.4,267.3 149.5,268.5 153.7,270.1 157.8,272.2 161.9,274.6 166.1,277.1 170.2,279.8 174.3,282.2 178.5,284.5 182.6,286.2 186.8,287.3 190.9,287.5 195.0,286.7 197.4,287.5 193.3,288.4 189.1,288.4 185.0,287.4 180.9,285.8 176.7,283.6 172.6,281.2 168.4,278.7 164.3,276.2 160.2,273.9 156.0,271.8 151.9,270.2 147.8,269.0 143.6,268.3 139.5,268.3 135.4,268.9 131.2,270.1 127.1,271.9 123.0,274.2 118.8,277.2 114.7,280.6 110.5,284.4 106.4,288.6 102.3,293.0 98.1,297.6 94.0,302.2 89.9,306.7 85.7,311.0 81.6,314.8"/>
<polygon fill="url(#s27)" stroke="url(#s27)" points="80.7,314.5 84.8,310.6 89.0,306.4 93.1,301.8 97.3,297.2 101.4,292.6 105.5,288.1 109.7,283.9 113.8,280.0 117.9,276.6 122.1,273.7 126.2,271.3 130.3,269.5 134.5,268.2 138.6,267.6 142.7,267.7 146.9,268.3 151.0,269.5 155.2,271.2 159.3,273.2 163.4,275.6 167.6,278.1 171.7,280.7 175.8,283.1 180.0,285.3 184.1,287.0 188.2,288.0 192.4,288.1 196.5,287.2 198.9,288.0 194.7,289.0 190.6,289.1 186.5,288.2 182.3,286.6 178.2,284.5 174.1,282.2 169.9,279.7 165.8,277.2 161.7,274.9 157.5,272.9 153.4,271.3 149.3,270.1 145.1,269.5 141.0,269.4 136.8,270.0 132.7,271.1 128.6,272.9 124.4,275.3 120.3,278.1 116.2,281.5 112.0,285.3 107.9,289.4 103.8,293.8 99.6,298.4 95.5,302.9 91.4,307.4 87.2,311.6 83.1,315.4"/>
<polygon fill="url(#s26)" stroke="url(#s26)" points="82.2,315.0 86.3,311.2 90.5,307.0 94.6,302.5 98.7,297.9 102.9,293.3 107.0,288.9 111.1,284.7 115.3,280.9 119.4,277.5 123.5,274.6 127.7,272.3 131.8,270.5 136.0,269.3 140.1,268.7 144.2,268.8 148.4,269.4 152.5,270.6 156.6,272.2 160.8,274.3 164.9,276.6 169.0,279.1 173.2,281.6 177.3,284.0 181.4,286.1 185.6,287.7 189.7,288.7 193.9,288.7 198.0,287.7 200.4,288.6 196.2,289.6 192.1,289.7 188.0,288.9 183.8,287.5 179.7,285.5 175.5,283.2 171.4,280.7 167.3,278.3 163.1,276.1 159.0,274.1 154.9,272.4 150.7,271.3 146.6,270.6 142.5,270.6 138.3,271.1 134.2,272.3 130.1,274.0 125.9,276.3 121.8,279.2 117.6,282.5 113.5,286.2 109.4,290.3 105.2,294.6 101.1,299.1 97.0,303.6 92.8,308.1 88.7,312.2 84.6,316.0"/>
<polygon fill="url(#s25)" stroke="url(#s25)" points="83.7,315.6 87.8,311.8 91.9,307.7 96.1,303.2 100.2,298.7 104.4,294.1 108.5,289.8 112.6,285.6 116.8,281.9 120.9,278.5 125.0,275.7 129.2,273.4 133.3,271.6 137.4,270.4 141.6,269.9 145.7,269.9 149.8,270.6 154.0,271.7 158.1,273.4 162.3,275.4 166.4,277.7 170.5,280.1 174.7,282.6 178.8,284.9 182.9,286.9 187.1,288.5 191.2,289.3 195.3,289.3 199.5,288.3 201.8,289.1 197.7,290.2 193.6,290.4 189.4,289.7 185.3,288.3 181.2,286.4 177.0,284.2 172.9,281.8 168.8,279.4 164.6,277.2 160.5,275.3 156.4,273.7 152.2,272.5 148.1,271.9 143.9,271.8 139.8,272.3 135.7,273.5 131.5,275.2 127.4,277.4 123.3,280.2 119.1,283.5 115.0,287.2 110.9,291.2 106.7,295.5 102.6,299.9 98.5,304.4 94.3,308.8 90.2,312.9 86.0,316.5"/>
<polygon fill="url(#s24)" stroke="url(#s24)" points="85.2,316.2 89.3,312.5 93.4,308.3 97.6,303.9 101.7,299.4 105.8,295.0 110.0,290.7 114.1,286.6 118.2,282.9 122.4,279.6 126.5,276.8 130.6,274.5 134.8,272.7 138.9,271.6 143.1,271.1 147.2,271.1 151.3,271.8 155.5,272.9 159.6,274.5 163.7,276.5 167.9,278.8 172.0,281.2 176.1,283.6 180.3,285.8 184.4,287.8 188.5,289.3 192.7,290.0 196.8,289.8 201.0,288.8 203.3,289.6 199.2,290.7 195.1,291.1 190.9,290.5 186.8,289.2 182.6,287.4 178.5,285.2 174.4,282.9 170.2,280.6 166.1,278.4 162.0,276.5 157.8,274.9 153.7,273.8 149.6,273.1 145.4,273.1 141.3,273.6 137.2,274.7 133.0,276.4 128.9,278.6 124.7,281.4 120.6,284.6 116.5,288.2 112.3,292.2 108.2,296.4 104.1,300.8 99.9,305.2 95.8,309.5 91.7,313.5 87.5,317.1"/>
<polygon fill="url(#s23)" stroke="url(#s23)" points="86.6,316.8 90.8,313.1 94.9,309.0 99.0,304.7 103.2,300.3 107.3,295.9 111.5,291.6 115.6,287.6 119.7,283.9 123.9,280.7 128.0,277.9 132.1,275.6 136.3,273.9 140.4,272.8 144.5,272.3 148.7,272.4 152.8,273.0 156.9,274.2 161.1,275.7 165.2,277.7 169.4,279.9 173.5,282.3 177.6,284.6 181.8,286.8 185.9,288.7 190.0,290.0 194.2,290.7 198.3,290.4 202.4,289.3 204.8,290.2 200.7,291.3 196.5,291.8 192.4,291.3 188.3,290.1 184.1,288.4 180.0,286.3 175.9,284.0 171.7,281.8 167.6,279.7 163.5,277.8 159.3,276.2 155.2,275.1 151.0,274.5 146.9,274.4 142.8,274.9 138.6,276.0 134.5,277.6 130.4,279.8 126.2,282.5 122.1,285.7 118.0,289.3 113.8,293.2 109.7,297.4 105.6,301.7 101.4,306.0 97.3,310.2 93.1,314.2 89.0,317.8"/>
<polygon fill="url(#s22)" stroke="url(#s22)" points="88.1,317.4 92.3,313.8 96.4,309.8 100.5,305.5 104.7,301.1 108.8,296.8 112.9,292.6 117.1,288.6 121.2,285.0 125.3,281.8 129.5,279.1 133.6,276.9 137.7,275.2 141.9,274.1 146.0,273.6 150.2,273.7 154.3,274.3 158.4,275.4 162.6,277.0 166.7,278.9 170.8,281.1 175.0,283.4 179.1,285.6 183.2,287.8 187.4,289.5 191.5,290.8 195.6,291.4 199.8,290.9 203.9,289.9 206.3,290.7 202.2,291.8 198.0,292.4 193.9,292.1 189.7,291.0 185.6,289.3 181.5,287.4 177.3,285.2 173.2,283.0 169.1,280.9 164.9,279.1 160.8,277.6 156.7,276.4 152.5,275.8 148.4,275.7 144.3,276.2 140.1,277.3 136.0,278.9 131.8,281.1 127.7,283.8 123.6,286.9 119.4,290.4 115.3,294.2 111.2,298.3 107.0,302.6 102.9,306.8 98.8,311.0 94.6,314.9 90.5,318.4"/>
<polygon fill="url(#s21)" stroke="url(#s21)" points="89.6,318.0 93.7,314.5 97.9,310.5 102.0,306.3 106.1,302.0 110.3,297.7 114.4,293.6 118.6,289.7 122.7,286.2 126.8,283.0 131.0,280.3 135.1,278.1 139.2,276.5 143.4,275.4 147.5,274.9 151.6,275.0 155.8,275.6 159.9,276.7 164.0,278.3 168.2,280.2 172.3,282.3 176.5,284.5 180.6,286.7 184.7,288.7 188.9,290.4 193.0,291.6 197.1,292.0 201.3,291.5 205.4,290.4 207.8,291.2 203.6,292.3 199.5,293.1 195.4,292.8 191.2,291.9 187.1,290.3 183.0,288.5 178.8,286.4 174.7,284.3 170.6,282.2 166.4,280.4 162.3,278.9 158.1,277.8 154.0,277.2 149.9,277.1 145.7,277.6 141.6,278.7 137.5,280.3 133.3,282.4 129.2,285.0 125.1,288.1 120.9,291.5 116.8,295.3 112.7,299.3 108.5,303.5 104.4,307.7 100.2,311.8 96.1,315.6 92.0,319.0"/>
<polygon fill="url(#s20)" stroke="url(#s20)" points="91.1,318.6 95.2,315.2 99.4,311.3 103.5,307.2 107.6,302.9 111.8,298.7 115.9,294.7 120.0,290.9 124.2,287.4 128.3,284.3 132.4,281.6 136.6,279.5 140.7,277.8 144.8,276.8 149.0,276.3 153.1,276.4 157.3,277.0 161.4,278.1 165.5,279.6 169.7,281.4 173.8,283.5 177.9,285.7 182.1,287.8 186.2,289.7 190.3,291.3 194.5,292.4 198.6,292.7 202.7,292.0 206.9,290.9 209.3,291.8 205.1,292.9 201.0,293.7 196.8,293.6 192.7,292.8 188.6,291.4 184.4,289.6 180.3,287.6 176.2,285.5 172.0,283.6 167.9,281.8 163.8,280.3 159.6,279.3 155.5,278.7 151.4,278.6 147.2,279.1 143.1,280.1 138.9,281.7 134.8,283.7 130.7,286.3 126.5,289.3 122.4,292.7 118.3,296.4 114.1,300.4 110.0,304.5 105.9,308.6 101.7,312.5 97.6,316.3 93.5,319.6"/>
<polygon fill="url(#s19)" stroke="url(#s19)" points="92.6,319.2 96.7,315.9 100.8,312.1 105.0,308.0 109.1,303.9 113.2,299.8 117.4,295.8 121.5,292.0 125.7,288.6 129.8,285.5 133.9,282.9 138.1,280.8 142.2,279.2 146.3,278.2 150.5,277.7 154.6,277.8 158.7,278.4 162.9,279.5 167.0,281.0 171.1,282.8 175.3,284.8 179.4,286.8 183.6,288.9 187.7,290.7 191.8,292.2 196.0,293.2 200.1,293.3 204.2,292.6 208.4,291.5 210.7,292.3 206.6,293.4 202.5,294.3 198.3,294.4 194.2,293.7 190.1,292.4 185.9,290.7 181.8,288.8 177.7,286.8 173.5,284.9 169.4,283.2 165.2,281.8 161.1,280.7 157.0,280.2 152.8,280.1 148.7,280.5 144.6,281.5 140.4,283.1 136.3,285.1 132.2,287.7 128.0,290.6 123.9,293.9 119.8,297.6 115.6,301.4 111.5,305.4 107.3,309.4 103.2,313.3 99.1,317.0 94.9,320.3"/>
<polygon fill="url(#s18)" stroke="url(#s18)" points="94.0,319.9 98.2,316.6 102.3,312.9 106.5,308.9 110.6,304.8 114.7,300.8 118.9,296.9 123.0,293.2 127.1,289.8 131.3,286.8 135.4,284.3 139.5,282.2 143.7,280.7 147.8,279.6 151.9,279.2 156.1,279.3 160.2,279.9 164.4,280.9 168.5,282.3 172.6,284.1 176.8,286.0 180.9,288.0 185.0,290.0 189.2,291.8 193.3,293.1 197.4,293.9 201.6,294.0 205.7,293.1 209.8,292.0 212.2,292.8 208.1,293.9 203.9,295.0 199.8,295.1 195.7,294.6 191.5,293.4 187.4,291.8 183.3,290.0 179.1,288.1 175.0,286.3 170.9,284.6 166.7,283.2 162.6,282.2 158.5,281.7 154.3,281.6 150.2,282.0 146.0,283.0 141.9,284.5 137.8,286.5 133.6,289.0 129.5,291.9 125.4,295.2 121.2,298.8 117.1,302.5 113.0,306.4 108.8,310.3 104.7,314.2 100.6,317.7 96.4,320.9"/>
<polygon fill="url(#s17)" stroke="url(#s17)" points="95.5,320.5 99.7,317.3 103.8,313.7 107.9,309.8 112.1,305.8 116.2,301.9 120.3,298.0 124.5,294.4 128.6,291.1 132.8,288.2 136.9,285.7 141.0,283.7 145.2,282.1 149.3,281.1 153.4,280.7 157.6,280.8 161.7,281.3 165.8,282.4 170.0,283.8 174.1,285.4 178.2,287.3 182.4,289.3 186.5,291.1 190.7,292.8 194.8,294.0 198.9,294.7 203.1,294.6 207.2,293.6 211.3,292.5 213.7,293.4 209.6,294.5 205.4,295.5 201.3,295.9 197.2,295.4 193.0,294.4 188.9,292.9 184.8,291.2 180.6,289.4 176.5,287.7 172.3,286.1 168.2,284.7 164.1,283.8 159.9,283.2 155.8,283.1 151.7,283.6 147.5,284.5 143.4,286.0 139.3,288.0 135.1,290.4 131.0,293.3 126.9,296.5 122.7,299.9 118.6,303.6 114.4,307.4 110.3,311.3 106.2,315.0 102.0,318.4 97.9,321.5"/>
<polygon fill="url(#s16)" stroke="url(#s16)" points="97.0,321.1 101.1,318.0 105.3,314.5 109.4,310.7 113.6,306.8 117.7,303.0 121.8,299.2 126.0,295.7 130.1,292.5 134.2,289.6 138.4,287.1 142.5,285.1 146.6,283.6 150.8,282.6 154.9,282.2 159.0,282.3 163.2,282.8 167.3,283.8 171.5,285.2 175.6,286.8 179.7,288.6 183.9,290.5 188.0,292.2 192.1,293.8 196.3,294.9 200.4,295.4 204.5,295.2 208.7,294.2 212.8,293.1 215.2,293.9 211.0,295.0 206.9,296.1 202.8,296.6 198.6,296.3 194.5,295.4 190.4,294.0 186.2,292.4 182.1,290.7 178.0,289.1 173.8,287.5 169.7,286.2 165.6,285.3 161.4,284.8 157.3,284.7 153.1,285.1 149.0,286.1 144.9,287.6 140.7,289.5 136.6,291.9 132.5,294.6 128.3,297.8 124.2,301.2 120.1,304.8 115.9,308.5 111.8,312.2 107.7,315.8 103.5,319.1 99.4,322.1"/>
<polygon fill="url(#s15)" stroke="url(#s15)" points="98.5,321.7 102.6,318.7 106.8,315.3 110.9,311.6 115.0,307.9 119.2,304.1 123.3,300.4 127.4,297.0 131.6,293.8 135.7,291.0 139.9,288.6 144.0,286.6 148.1,285.2 152.3,284.2 156.4,283.8 160.5,283.8 164.7,284.4 168.8,285.3 172.9,286.6 177.1,288.2 181.2,289.9 185.3,291.7 189.5,293.4 193.6,294.8 197.8,295.8 201.9,296.2 206.0,295.8 210.2,294.7 214.3,293.6 216.7,294.4 212.5,295.5 208.4,296.6 204.3,297.3 200.1,297.2 196.0,296.4 191.9,295.2 187.7,293.7 183.6,292.1 179.4,290.5 175.3,289.0 171.2,287.8 167.0,286.9 162.9,286.4 158.8,286.3 154.6,286.7 150.5,287.7 146.4,289.1 142.2,291.0 138.1,293.3 134.0,296.0 129.8,299.1 125.7,302.4 121.5,305.9 117.4,309.5 113.3,313.1 109.1,316.6 105.0,319.8 100.9,322.7"/>
<polygon fill="url(#s14)" stroke="url(#s14)" points="100.0,322.3 104.1,319.4 108.2,316.1 112.4,312.5 116.5,308.9 120.7,305.2 124.8,301.6 128.9,298.3 133.1,295.2 137.2,292.4 141.3,290.1 145.5,288.2 149.6,286.7 153.7,285.8 157.9,285.3 162.0,285.4 166.1,285.9 170.3,286.9 174.4,288.1 178.6,289.6 182.7,291.3 186.8,292.9 191.0,294.5 195.1,295.8 199.2,296.7 203.4,296.9 207.5,296.3 211.6,295.2 215.8,294.1 218.1,295.0 214.0,296.1 209.9,297.2 205.7,298.0 201.6,298.0 197.5,297.4 193.3,296.3 189.2,294.9 185.1,293.4 180.9,291.9 176.8,290.5 172.7,289.3 168.5,288.5 164.4,288.0 160.2,287.9 156.1,288.4 152.0,289.3 147.8,290.7 143.7,292.5 139.6,294.8 135.4,297.4 131.3,300.4 127.2,303.6 123.0,307.0 118.9,310.5 114.8,314.0 110.6,317.4 106.5,320.5 102.3,323.3"/>
<polygon fill="url(#s13)" stroke="url(#s13)" points="101.5,322.9 105.6,320.1 109.7,316.9 113.9,313.5 118.0,309.9 122.1,306.3 126.3,302.9 130.4,299.6 134.5,296.6 138.7,293.9 142.8,291.6 147.0,289.7 151.1,288.3 155.2,287.4 159.4,287.0 163.5,287.0 167.6,287.5 171.8,288.4 175.9,289.6 180.0,291.0 184.2,292.6 188.3,294.2 192.4,295.6 196.6,296.8 200.7,297.5 204.9,297.6 209.0,296.8 213.1,295.8 217.3,294.7 219.6,295.5 215.5,296.6 211.4,297.7 207.2,298.6 203.1,298.8 199.0,298.3 194.8,297.4 190.7,296.1 186.5,294.7 182.4,293.3 178.3,292.0 174.1,290.9 170.0,290.0 165.9,289.6 161.7,289.6 157.6,290.0 153.5,290.9 149.3,292.3 145.2,294.1 141.1,296.3 136.9,298.9 132.8,301.8 128.6,304.9 124.5,308.2 120.4,311.6 116.2,314.9 112.1,318.2 108.0,321.2 103.8,323.8"/>
<polygon fill="url(#s12)" stroke="url(#s12)" points="102.9,323.5 107.1,320.8 111.2,317.7 115.3,314.4 119.5,310.9 123.6,307.5 127.8,304.1 131.9,300.9 136.0,298.0 140.2,295.4 144.3,293.1 148.4,291.3 152.6,289.9 156.7,289.0 160.8,288.6 165.0,288.6 169.1,289.1 173.2,289.9 177.4,291.1 181.5,292.4 185.7,293.9 189.8,295.4 193.9,296.7 198.1,297.8 202.2,298.3 206.3,298.3 210.5,297.4 214.6,296.3 218.7,295.2 221.1,296.0 217.0,297.1 212.8,298.2 208.7,299.3 204.6,299.6 200.4,299.3 196.3,298.5 192.2,297.3 188.0,296.0 183.9,294.7 179.8,293.5 175.6,292.4 171.5,291.7 167.3,291.2 163.2,291.2 159.1,291.6 154.9,292.5 150.8,293.9 146.7,295.6 142.5,297.8 138.4,300.3 134.3,303.1 130.1,306.1 126.0,309.3 121.9,312.6 117.7,315.8 113.6,318.9 109.4,321.8 105.3,324.3"/>
<polygon fill="url(#s11)" stroke="url(#s11)" points="104.4,324.0 108.6,321.4 112.7,318.5 116.8,315.3 121.0,312.0 125.1,308.6 129.2,305.4 133.4,302.3 137.5,299.4 141.6,296.9 145.8,294.7 149.9,292.9 154.1,291.5 158.2,290.6 162.3,290.2 166.5,290.2 170.6,290.7 174.7,291.5 178.9,292.6 183.0,293.9 187.1,295.3 191.3,296.6 195.4,297.8 199.5,298.7 203.7,299.1 207.8,298.9 212.0,297.9 216.1,296.8 220.2,295.7 222.6,296.6 218.5,297.7 214.3,298.8 210.2,299.8 206.1,300.4 201.9,300.2 197.8,299.5 193.6,298.5 189.5,297.4 185.4,296.1 181.2,295.0 177.1,294.0 173.0,293.3 168.8,292.9 164.7,292.9 160.6,293.3 156.4,294.2 152.3,295.5 148.2,297.2 144.0,299.3 139.9,301.8 135.7,304.5 131.6,307.4 127.5,310.5 123.3,313.6 119.2,316.7 115.1,319.7 110.9,322.4 106.8,324.8"/>
<polygon fill="url(#s10)" stroke="url(#s10)" points="105.9,324.5 110.0,322.0 114.2,319.2 118.3,316.2 122.4,313.0 126.6,309.8 130.7,306.7 134.9,303.7 139.0,300.9 143.1,298.4 147.3,296.3 151.4,294.5 155.5,293.2 159.7,292.3 163.8,291.9 167.9,291.9 172.1,292.3 176.2,293.0 180.3,294.1 184.5,295.3 188.6,296.6 192.8,297.8 196.9,298.9 201.0,299.7 205.2,299.9 209.3,299.5 213.4,298.4 217.6,297.3 221.7,296.3 224.1,297.1 219.9,298.2 215.8,299.3 211.7,300.4 207.5,301.1 203.4,301.1 199.3,300.6 195.1,299.7 191.0,298.7 186.9,297.5 182.7,296.5 178.6,295.5 174.4,294.9 170.3,294.5 166.2,294.5 162.0,295.0 157.9,295.8 153.8,297.1 149.6,298.8 145.5,300.8 141.4,303.2 137.2,305.9 133.1,308.7 129.0,311.6 124.8,314.6 120.7,317.6 116.5,320.4 112.4,322.9 108.3,325.2"/>
<polygon fill="url(#s9)" stroke="url(#s9)" points="107.4,324.9 111.5,322.6 115.7,319.9 119.8,317.1 123.9,314.0 128.1,311.0 132.2,307.9 136.3,305.0 140.5,302.3 144.6,299.9 148.7,297.8 152.9,296.1 157.0,294.8 161.2,294.0 165.3,293.5 169.4,293.5 173.6,293.9 177.7,294.6 181.8,295.6 186.0,296.7 190.1,297.9 194.2,299.0 198.4,300.0 202.5,300.6 206.6,300.7 210.8,300.1 214.9,299.0 219.1,297.9 223.2,296.8 225.6,297.6 221.4,298.7 217.3,299.8 213.2,300.9 209.0,301.8 204.9,302.0 200.7,301.6 196.6,300.9 192.5,299.9 188.3,298.9 184.2,297.9 180.1,297.1 175.9,296.5 171.8,296.2 167.7,296.2 163.5,296.6 159.4,297.5 155.3,298.7 151.1,300.4 147.0,302.4 142.8,304.7 138.7,307.2 134.6,310.0 130.4,312.8 126.3,315.6 122.2,318.4 118.0,321.0 113.9,323.4 109.8,325.5"/>
<polygon fill="url(#s8)" stroke="url(#s8)" points="108.9,325.3 113.0,323.1 117.1,320.6 121.3,317.9 125.4,315.0 129.5,312.1 133.7,309.2 137.8,306.4 142.0,303.8 146.1,301.5 150.2,299.4 154.4,297.8 158.5,296.5 162.6,295.6 166.8,295.2 170.9,295.2 175.0,295.5 179.2,296.2 183.3,297.0 187.4,298.1 191.6,299.2 195.7,300.2 199.9,301.0 204.0,301.5 208.1,301.4 212.3,300.6 216.4,299.5 220.5,298.4 224.7,297.3 227.0,298.2 222.9,299.3 218.8,300.4 214.6,301.5 210.5,302.4 206.4,302.8 202.2,302.6 198.1,302.0 194.0,301.2 189.8,300.3 185.7,299.4 181.5,298.6 177.4,298.1 173.3,297.8 169.1,297.9 165.0,298.3 160.9,299.1 156.7,300.4 152.6,302.0 148.5,303.9 144.3,306.1 140.2,308.6 136.1,311.2 131.9,313.9 127.8,316.6 123.6,319.2 119.5,321.6 115.4,323.9 111.2,325.8"/>
<polygon fill="url(#s7)" stroke="url(#s7)" points="110.4,325.6 114.5,323.6 118.6,321.3 122.8,318.7 126.9,316.0 131.0,313.2 135.2,310.5 139.3,307.8 143.4,305.3 147.6,303.0 151.7,301.0 155.8,299.4 160.0,298.1 164.1,297.3 168.3,296.9 172.4,296.8 176.5,297.1 180.7,297.7 184.8,298.5 188.9,299.5 193.1,300.5 197.2,301.4 201.3,302.0 205.5,302.3 209.6,302.1 213.7,301.1 217.9,300.0 222.0,298.9 226.2,297.9 228.5,298.7 224.4,299.8 220.3,300.9 216.1,302.0 212.0,303.0 207.8,303.6 203.7,303.6 199.6,303.1 195.4,302.5 191.3,301.7 187.2,300.9 183.0,300.2 178.9,299.7 174.8,299.4 170.6,299.5 166.5,300.0 162.4,300.8 158.2,302.0 154.1,303.6 149.9,305.5 145.8,307.6 141.7,310.0 137.5,312.5 133.4,315.1 129.3,317.6 125.1,320.0 121.0,322.2 116.9,324.2 112.7,326.0"/>
<polygon fill="url(#s6)" stroke="url(#s6)" points="111.8,325.9 116.0,324.0 120.1,321.9 124.2,319.5 128.4,317.0 132.5,314.4 136.6,311.7 140.8,309.2 144.9,306.7 149.1,304.5 153.2,302.6 157.3,301.0 161.5,299.8 165.6,299.0 169.7,298.5 173.9,298.5 178.0,298.7 182.1,299.2 186.3,300.0 190.4,300.8 194.5,301.7 198.7,302.5 202.8,303.0 207.0,303.1 211.1,302.7 215.2,301.7 219.4,300.6 223.5,299.5 227.6,298.4 230.0,299.2 225.9,300.3 221.7,301.4 217.6,302.5 213.5,303.6 209.3,304.3 205.2,304.5 201.1,304.2 196.9,303.7 192.8,303.0 188.6,302.3 184.5,301.7 180.4,301.2 176.2,301.1 172.1,301.2 168.0,301.6 163.8,302.4 159.7,303.6 155.6,305.2 151.4,307.0 147.3,309.1 143.2,311.3 139.0,313.8 134.9,316.2 130.7,318.6 126.6,320.8 122.5,322.8 118.3,324.5 114.2,326.1"/>
<polygon fill="url(#s5)" stroke="url(#s5)" points="113.3,326.0 117.5,324.3 121.6,322.4 125.7,320.3 129.9,318.0 134.0,315.5 138.1,313.0 142.3,310.5 146.4,308.2 150.5,306.1 154.7,304.2 158.8,302.7 162.9,301.5 167.1,300.6 171.2,300.2 175.4,300.1 179.5,300.3 183.6,300.8 187.8,301.4 191.9,302.2 196.0,302.9 200.2,303.6 204.3,303.9 208.4,303.9 212.6,303.3 216.7,302.2 220.8,301.1 225.0,300.0 229.1,298.9 231.5,299.8 227.4,300.9 223.2,302.0 219.1,303.0 214.9,304.1 210.8,305.0 206.7,305.4 202.5,305.2 198.4,304.8 194.3,304.3 190.1,303.7 186.0,303.2 181.9,302.8 177.7,302.7 173.6,302.8 169.5,303.3 165.3,304.1 161.2,305.2 157.0,306.7 152.9,308.5 148.8,310.5 144.6,312.7 140.5,315.0 136.4,317.3 132.2,319.5 128.1,321.5 124.0,323.2 119.8,324.7 115.7,326.1"/>
<polygon fill="url(#s4)" stroke="url(#s4)" points="114.8,326.1 118.9,324.6 123.1,323.0 127.2,321.1 131.3,318.9 135.5,316.6 139.6,314.3 143.7,311.9 147.9,309.7 152.0,307.6 156.2,305.8 160.3,304.3 164.4,303.1 168.6,302.3 172.7,301.8 176.8,301.7 181.0,301.9 185.1,302.3 189.2,302.8 193.4,303.5 197.5,304.1 201.6,304.6 205.8,304.8 209.9,304.6 214.1,303.8 218.2,302.7 222.3,301.6 226.5,300.5 230.6,299.5 233.0,300.3 228.8,301.4 224.7,302.5 220.6,303.6 216.4,304.7 212.3,305.7 208.2,306.2 204.0,306.2 199.9,306.0 195.7,305.5 191.6,305.1 187.5,304.6 183.3,304.3 179.2,304.2 175.1,304.4 170.9,304.9 166.8,305.7 162.7,306.8 158.5,308.3 154.4,310.0 150.3,312.0 146.1,314.1 142.0,316.2 137.8,318.4 133.7,320.4 129.6,322.2 125.4,323.7 121.3,324.8 117.2,325.9"/>
<polygon fill="url(#s3)" stroke="url(#s3)" points="116.3,326.0 120.4,324.8 124.6,323.4 128.7,321.8 132.8,319.9 137.0,317.7 141.1,315.5 145.2,313.3 149.4,311.1 153.5,309.1 157.6,307.4 161.8,305.9 165.9,304.7 170.0,303.9 174.2,303.4 178.3,303.3 182.5,303.4 186.6,303.7 190.7,304.2 194.9,304.8 199.0,305.3 203.1,305.7 207.3,305.7 211.4,305.3 215.5,304.3 219.7,303.3 223.8,302.2 227.9,301.1 232.1,300.0 234.5,300.8 230.3,301.9 226.2,303.0 222.0,304.1 217.9,305.2 213.8,306.3 209.6,307.0 205.5,307.2 201.4,307.1 197.2,306.8 193.1,306.4 189.0,306.0 184.8,305.8 180.7,305.8 176.6,306.0 172.4,306.5 168.3,307.3 164.1,308.4 160.0,309.8 155.9,311.5 151.7,313.4 147.6,315.4 143.5,317.5 139.3,319.5 135.2,321.4 131.1,323.0 126.9,324.1 122.8,324.9 118.7,325.6"/>
<polygon fill="url(#s2)" stroke="url(#s2)" points="117.8,325.8 121.9,324.9 126.0,323.9 130.2,322.5 134.3,320.8 138.4,318.9 142.6,316.7 146.7,314.6 150.8,312.5 155.0,310.6 159.1,308.9 163.3,307.5 167.4,306.3 171.5,305.5 175.7,305.1 179.8,304.9 183.9,304.9 188.1,305.2 192.2,305.6 196.3,306.0 200.5,306.4 204.6,306.6 208.7,306.5 212.9,305.9 217.0,304.9 221.2,303.8 225.3,302.7 229.4,301.6 233.6,300.5 235.9,301.4 231.8,302.5 227.7,303.5 223.5,304.6 219.4,305.7 215.3,306.8 211.1,307.7 207.0,308.1 202.8,308.1 198.7,308.0 194.6,307.7 190.4,307.4 186.3,307.3 182.2,307.3 178.0,307.6 173.9,308.1 169.8,308.9 165.6,310.0 161.5,311.4 157.4,313.0 153.2,314.8 149.1,316.7 144.9,318.7 140.8,320.6 136.7,322.3 132.5,323.7 128.4,324.6 124.3,324.9 120.1,325.2"/>
<polygon fill="url(#s1)" stroke="url(#s1)" points="119.2,325.5 123.4,324.9 127.5,324.3 131.7,323.3 135.8,321.8 139.9,319.9 144.1,318.0 148.2,315.9 152.3,313.9 156.5,312.1 160.6,310.5 164.7,309.1 168.9,307.9 173.0,307.1 177.1,306.6 181.3,306.4 185.4,306.4 189.6,306.6 193.7,306.9 197.8,307.2 202.0,307.5 206.1,307.6 210.2,307.3 214.4,306.5 218.5,305.4 222.6,304.3 226.8,303.2 230.9,302.1 235.0,301.1 237.4,301.9 233.3,303.0 229.1,304.1 225.0,305.2 220.9,306.3 216.7,307.3 212.6,308.4 208.5,308.9 204.3,309.1 200.2,309.1 196.1,308.9 191.9,308.8 187.8,308.7 183.7,308.8 179.5,309.1 175.4,309.6 171.2,310.4 167.1,311.5 163.0,312.9 158.8,314.4 154.7,316.2 150.6,318.0 146.4,319.9 142.3,321.7 138.2,323.3 134.0,324.5 129.9,325.1 125.8,324.9 121.6,324.6"/>
<polygon fill="url(#s0)" stroke="url(#s0)" points="120.7,325.0 124.9,324.9 129.0,324.8 133.1,324.0 137.3,322.7 141.4,321.0 145.5,319.2 149.7,317.2 153.8,315.3 157.9,313.6 162.1,312.0 166.2,310.6 170.4,309.5 174.5,308.7 178.6,308.2 182.8,307.9 186.9,307.9 191.0,308.0 195.2,308.2 199.3,308.4 203.4,308.5 207.6,308.4 211.7,308.0 215.8,307.0 220.0,305.9 224.1,304.8 228.3,303.8 232.4,302.7 236.5,301.6 238.9,302.4 234.8,303.5 230.6,304.6 226.5,305.7 222.4,306.8 218.2,307.9 214.1,308.9 209.9,309.7 205.8,310.1 201.7,310.2 197.5,310.2 193.4,310.1 189.3,310.1 185.1,310.3 181.0,310.6 176.9,311.1 172.7,312.0 168.6,313.0 164.5,314.3 160.3,315.9 156.2,317.5 152.1,319.3 147.9,321.1 143.8,322.8 139.6,324.2 135.5,325.3 131.4,325.7 127.2,325.3 123.1,323.9"/>
</g>
<path d="M36.6 265.7L39.8 265.7L39.6 285L40 297L42 302.5L40 306L39.5 338.8L35.7 339.2L36.1 325L37 306L37.5 298L37 285Z" fill="url(#spk)"/>
<path d="M120.3 324.8L123.1 319L126 324.8Z" fill="#c3bf3c"/>
<text x="31.5" y="265.9" text-anchor="end" class="t3">0</text>
<text x="31.5" y="279.9" text-anchor="end" class="t3">-1</text>
<text x="31.5" y="293.9" text-anchor="end" class="t3">-2</text>
<text x="31.5" y="307.9" text-anchor="end" class="t3">-3</text>
<text x="31.5" y="321.9" text-anchor="end" class="t3">-4</text>
<text x="31.5" y="335.9" text-anchor="end" class="t3">-5</text>
<text x="31.5" y="349.9" text-anchor="end" class="t3">-6</text>
<text x="16.5" y="250" class="t3">×10<tspan dy="-3.4" dx=".3" font-size="4.6">-4</tspan></text>
<text x="29.6" y="356.6" text-anchor="end" class="t3">1000</text>
<text x="73.6" y="377.2" text-anchor="end" class="t3">500</text>
<text x="117.8" y="397.4" text-anchor="end" class="t3">0</text>
<text x="130.3" y="398.0" text-anchor="middle" class="t3">0</text>
<text x="156.8" y="391.9" text-anchor="middle" class="t3">200</text>
<text x="180" y="385.5" text-anchor="middle" class="t3">400</text>
<text x="203" y="379.1" text-anchor="middle" class="t3">600</text>
<text x="225.7" y="372.7" text-anchor="middle" class="t3">800</text>
<text x="251.3" y="366.4" text-anchor="middle" class="t3">1000</text>
<text transform="translate(15.6 296.5) rotate(-90)" text-anchor="middle" class="al" textLength="89" lengthAdjust="spacingAndGlyphs">Deformation(um)</text>
<text x="130.3" y="441" text-anchor="middle" class="pl">c</text>
<rect x="305.5" y="356.3" width="16.4" height="18.1" fill="#0000ff" stroke="#101040" stroke-width=".5"/>
<rect x="325.5" y="356.4" width="16.4" height="18.0" fill="#0000ff" stroke="#101040" stroke-width=".5"/>
<rect x="345.5" y="354.5" width="16.4" height="19.9" fill="#0000ff" stroke="#101040" stroke-width=".5"/>
<rect x="365.5" y="353.2" width="16.4" height="21.2" fill="#0000ff" stroke="#101040" stroke-width=".5"/>
<rect x="385.5" y="354.4" width="16.4" height="20.0" fill="#0000ff" stroke="#101040" stroke-width=".5"/>
<rect x="405.5" y="353.3" width="16.4" height="21.1" fill="#0000ff" stroke="#101040" stroke-width=".5"/>
<rect x="425.5" y="354.1" width="16.4" height="20.3" fill="#0000ff" stroke="#101040" stroke-width=".5"/>
<rect x="445.5" y="356.0" width="16.4" height="18.4" fill="#0000ff" stroke="#101040" stroke-width=".5"/>
<rect x="465.5" y="353.3" width="16.4" height="21.1" fill="#0000ff" stroke="#101040" stroke-width=".5"/>
<rect x="485.5" y="352.7" width="16.4" height="21.7" fill="#0000ff" stroke="#101040" stroke-width=".5"/>
<polyline fill="none" stroke="#8a8a8a" stroke-width=".7" points="313.6,355.0 333.6,355.1 353.6,353.2 373.6,351.9 393.6,353.1 413.6,352.0 433.6,352.8 453.6,354.7 473.6,352.0 493.6,351.4"/>
<rect x="312.3" y="354.0" width="2.6" height="2.1" fill="#505050"/>
<rect x="332.3" y="354.1" width="2.6" height="2.1" fill="#505050"/>
<rect x="352.3" y="352.2" width="2.6" height="2.1" fill="#505050"/>
<rect x="372.3" y="350.9" width="2.6" height="2.1" fill="#505050"/>
<rect x="392.3" y="352.1" width="2.6" height="2.1" fill="#505050"/>
<rect x="412.3" y="351.0" width="2.6" height="2.1" fill="#505050"/>
<rect x="432.3" y="351.8" width="2.6" height="2.1" fill="#505050"/>
<rect x="452.3" y="353.7" width="2.6" height="2.1" fill="#505050"/>
<rect x="472.3" y="351.0" width="2.6" height="2.1" fill="#505050"/>
<rect x="492.3" y="350.4" width="2.6" height="2.1" fill="#505050"/>
<path d="M303.3 226.3H503.6" stroke="#111" stroke-width="1.1"/>
<path d="M302.8 374.4H503.6" stroke="#111" stroke-width="1.1"/>
<path d="M313.3 226.3v2.6M323.3 226.3v2.2M333.4 226.3v2.6M343.4 226.3v2.2M353.4 226.3v2.6M363.4 226.3v2.2M373.4 226.3v2.6M383.5 226.3v2.2M393.5 226.3v2.6M403.5 226.3v2.2M413.5 226.3v2.6M423.5 226.3v2.2M433.6 226.3v2.6M443.6 226.3v2.2M453.6 226.3v2.6M463.6 226.3v2.2M473.6 226.3v2.6M483.7 226.3v2.2M493.7 226.3v2.6" stroke="#111" stroke-width=".9"/>
<path d="M313.5 374.4v3M333.5 374.4v3M353.5 374.4v3M373.5 374.4v3M393.5 374.4v3M413.5 374.4v3M433.5 374.4v3M453.5 374.4v3M473.5 374.4v3M493.5 374.4v3" stroke="#111" stroke-width=".9"/>
<path d="M503.6 225.8V374.9" stroke="#777" stroke-width="1.1"/>
<path d="M503.6 374.4h2.8M503.6 362.1h1.6M503.6 349.7h2.8M503.6 337.4h1.6M503.6 325.0h2.8M503.6 312.7h1.6M503.6 300.4h2.8M503.6 288.0h1.6M503.6 275.7h2.8M503.6 263.3h1.6M503.6 251.0h2.8M503.6 238.6h1.6M503.6 226.3h2.8" stroke="#777" stroke-width=".8"/>
<text x="510" y="377.6" class="rt">0</text>
<text x="510" y="352.9" class="rt">200</text>
<text x="510" y="328.2" class="rt">400</text>
<text x="510" y="303.6" class="rt">600</text>
<text x="510" y="278.9" class="rt">800</text>
<text x="510" y="254.2" class="rt">1000</text>
<text x="510" y="229.5" class="rt">1200</text>
<path d="M303.3 225.8V374.9" stroke="#1010ff" stroke-width="1.4"/>
<path d="M303.3 374.4h-2.8M303.3 367.0h-1.5M303.3 359.6h-2.8M303.3 352.2h-1.5M303.3 344.8h-2.8M303.3 337.4h-1.5M303.3 330.0h-2.8M303.3 322.6h-1.5M303.3 315.2h-2.8M303.3 307.8h-1.5M303.3 300.4h-2.8M303.3 292.9h-1.5M303.3 285.5h-2.8M303.3 278.1h-1.5M303.3 270.7h-2.8M303.3 263.3h-1.5M303.3 255.9h-2.8M303.3 248.5h-1.5M303.3 241.1h-2.8M303.3 233.7h-1.5M303.3 226.3h-2.8" stroke="#1010ff" stroke-width=".9"/>
<text x="300" y="377.5" text-anchor="end" class="lt">0.0</text>
<text x="300" y="362.7" text-anchor="end" class="lt">0.2</text>
<text x="300" y="347.9" text-anchor="end" class="lt">0.4</text>
<text x="300" y="333.1" text-anchor="end" class="lt">0.6</text>
<text x="300" y="318.3" text-anchor="end" class="lt">0.8</text>
<text x="300" y="303.5" text-anchor="end" class="lt">1.0</text>
<text x="300" y="288.6" text-anchor="end" class="lt">1.2</text>
<text x="300" y="273.8" text-anchor="end" class="lt">1.4</text>
<text x="300" y="259.0" text-anchor="end" class="lt">1.6</text>
<text x="300" y="244.2" text-anchor="end" class="lt">1.8</text>
<text x="300" y="229.4" text-anchor="end" class="lt">2.0</text>
<text x="315.8" y="386.3" text-anchor="middle" class="xt">1</text>
<text x="335.8" y="386.3" text-anchor="middle" class="xt">2</text>
<text x="355.8" y="386.3" text-anchor="middle" class="xt">3</text>
<text x="375.8" y="386.3" text-anchor="middle" class="xt">4</text>
<text x="395.8" y="386.3" text-anchor="middle" class="xt">5</text>
<text x="415.8" y="386.3" text-anchor="middle" class="xt">6</text>
<text x="435.8" y="386.3" text-anchor="middle" class="xt">7</text>
<text x="455.8" y="386.3" text-anchor="middle" class="xt">8</text>
<text x="475.8" y="386.3" text-anchor="middle" class="xt">9</text>
<text x="494.8" y="386.3" text-anchor="middle" class="xt">10</text>
<text x="400.7" y="403" text-anchor="middle" class="grp" textLength="38.3" lengthAdjust="spacingAndGlyphs">Group</text>
<text transform="translate(282.7 292.2) rotate(-90)" text-anchor="middle" class="al2" textLength="92.8" lengthAdjust="spacingAndGlyphs">Deformation (um)</text>
<text transform="translate(543 287.6) rotate(-90)" text-anchor="middle" class="al2" textLength="112.8" lengthAdjust="spacingAndGlyphs">Pressure Difference (Pa)</text>
<rect x="444.6" y="388.2" width="87.2" height="14.2" fill="#fff" stroke="#222" stroke-width=".6"/>
<rect x="445.8" y="388.6" width="13.4" height="6" fill="#0000ff"/>
<path d="M445.8 398.6h13.4" stroke="#8a8a8a" stroke-width=".7"/>
<rect x="451.2" y="397.5" width="2.6" height="2.2" fill="#444"/>
<text x="493.2" y="395.3" text-anchor="middle" class="lg" textLength="37" lengthAdjust="spacingAndGlyphs">Deformation</text>
<text x="494.7" y="401.5" text-anchor="middle" class="lg" textLength="57.4" lengthAdjust="spacingAndGlyphs">Pressure Difference</text>
<text x="413.9" y="441" text-anchor="middle" class="pl">d</text>
</svg></body></html>
